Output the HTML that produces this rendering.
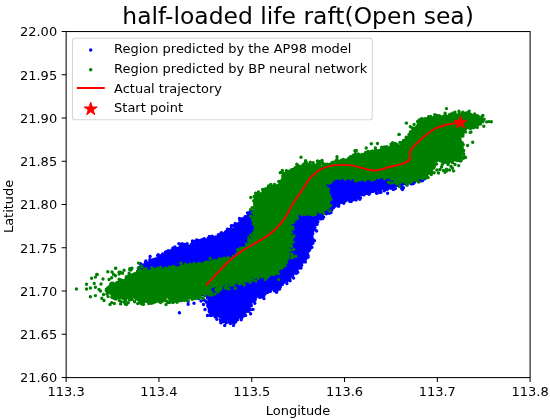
<!DOCTYPE html>
<html><head><meta charset="utf-8"><title>half-loaded life raft(Open sea)</title>
<style>
html,body{margin:0;padding:0;background:#fff;}
body{width:550px;height:420px;overflow:hidden;}
svg{display:block;}
text{font-family:"DejaVu Sans","Liberation Sans",sans-serif;fill:#000;}
</style></head><body>
<svg width="550" height="420" viewBox="0 0 550 420">
<rect width="550" height="420" fill="#fff"/>

<g fill="#0000ff">
<polygon points="141.0,269.0 151.5,282.4 207.3,289.2 207.5,289.2 207.5,289.2 207.7,289.3 207.8,289.3 208.0,289.4 208.0,289.4 208.2,289.5 208.3,289.5 208.5,289.6 208.5,289.6 208.7,289.8 208.7,289.8 208.9,290.0 208.9,290.0 209.1,290.2 209.1,290.2 209.3,290.4 209.3,290.4 209.4,290.6 209.4,290.6 209.6,290.9 209.6,290.9 209.7,291.1 209.7,291.1 209.7,291.4 209.7,291.4 209.8,291.6 209.8,291.7 209.8,291.8 210.3,298.2 211.4,308.5 214.9,313.3 220.8,316.5 220.8,316.5 220.8,316.5 220.8,316.5 225.7,319.2 232.4,319.2 238.6,316.6 243.1,313.3 244.8,306.8 244.8,306.6 244.8,306.6 244.9,306.4 245.0,306.3 245.1,306.1 245.1,306.1 245.2,305.8 245.3,305.8 245.3,305.7 251.3,298.5 251.4,298.4 251.4,298.4 251.6,298.2 251.6,298.2 251.8,298.0 251.9,298.0 252.1,297.9 252.1,297.9 252.2,297.8 262.7,292.3 262.8,292.2 262.9,292.2 263.0,292.2 274.4,288.0 278.4,285.7 286.1,279.3 296.1,269.4 303.4,259.6 308.9,249.0 311.4,239.0 312.2,229.3 312.2,229.2 312.2,229.1 312.3,228.9 312.3,228.9 312.3,228.8 314.3,221.1 314.3,221.0 314.3,221.0 314.4,220.7 314.4,220.7 314.5,220.5 314.6,220.4 314.7,220.2 314.7,220.2 314.9,220.0 314.9,220.0 315.0,219.8 315.1,219.8 315.2,219.7 321.8,213.9 321.9,213.8 321.9,213.8 322.0,213.7 329.4,208.5 329.5,208.5 329.5,208.4 329.6,208.4 339.6,202.4 339.7,202.3 339.7,202.3 339.8,202.3 345.8,199.4 345.9,199.3 345.9,199.3 346.1,199.2 346.1,199.2 346.3,199.2 346.3,199.2 346.5,199.2 358.9,196.7 364.4,192.9 364.5,192.8 364.5,192.8 364.7,192.7 364.7,192.7 364.9,192.6 365.0,192.6 365.2,192.5 365.2,192.5 365.3,192.5 383.3,187.8 383.3,187.8 383.3,187.8 383.4,187.8 398.3,184.3 406.2,181.8 406.2,181.8 406.2,181.8 406.3,181.8 421.3,177.8 421.4,177.8 421.4,177.8 421.5,177.7 421.8,177.7 420.6,170.8 390.1,170.8 345.8,174.7 321.3,187.5 321.2,187.5 321.2,187.5 321.0,187.6 321.0,187.6 320.9,187.7 291.0,197.6 261.2,210.1 249.7,215.6 241.3,221.6 234.3,228.9 234.2,229.0 234.2,229.0 234.0,229.2 234.0,229.2 233.8,229.4 233.8,229.4 233.6,229.5 226.3,233.5 226.2,233.5 226.2,233.5 226.1,233.6 215.1,238.1 215.0,238.1 215.0,238.1 214.9,238.2 199.9,243.2 199.8,243.2 199.7,243.2 199.6,243.2 181.9,247.2 169.2,253.0 154.3,260.0 146.6,264.8 141.0,269.0"/>
</g>
<path d="M419.5 177.3h.01M381.1 169.5h.01M357.6 174.5h.01M180.6 287.6h.01M191.6 287.0h.01M235.2 223.4h.01M275.6 205.0h.01M161.0 255.8h.01M209.8 300.2h.01M263.9 208.5h.01M247.9 304.3h.01M211.3 306.6h.01M277.1 203.7h.01M284.6 199.9h.01M230.3 232.3h.01M287.8 199.3h.01M242.4 220.9h.01M309.4 247.7h.01M344.8 200.8h.01M280.7 200.9h.01M247.5 213.0h.01M343.5 175.8h.01M394.1 171.3h.01M282.5 201.7h.01M259.8 292.7h.01M262.6 210.2h.01M195.1 286.8h.01M331.7 210.0h.01M174.6 250.8h.01M392.3 185.6h.01M255.1 300.0h.01M219.2 237.1h.01M322.3 187.7h.01M146.7 263.4h.01M312.5 231.7h.01M334.6 180.5h.01M157.9 283.2h.01M239.4 225.0h.01M170.8 251.6h.01M421.1 169.6h.01M184.6 244.5h.01M183.9 246.7h.01M211.2 297.2h.01M291.3 274.3h.01M317.5 188.3h.01M391.7 185.4h.01M314.9 227.5h.01M321.3 214.6h.01M368.9 191.7h.01M188.6 287.1h.01M146.3 278.9h.01M222.3 316.5h.01M394.1 171.4h.01M408.1 170.3h.01M268.3 206.7h.01M287.6 276.4h.01M183.0 246.0h.01M259.1 296.5h.01M420.1 179.6h.01M305.6 255.7h.01M148.2 278.1h.01M341.2 201.1h.01M367.0 173.7h.01M172.7 284.4h.01M184.6 246.0h.01M221.4 235.9h.01M222.2 319.0h.01M251.5 300.9h.01M307.8 190.6h.01M209.0 308.6h.01M283.9 199.0h.01M369.1 168.8h.01M185.8 286.8h.01M182.8 247.5h.01M368.6 171.2h.01M321.8 187.8h.01M394.8 187.0h.01M209.2 311.2h.01M224.1 235.0h.01M390.6 171.2h.01M376.2 190.5h.01M266.7 208.5h.01M392.0 170.5h.01M345.8 200.8h.01M420.6 171.3h.01M212.1 238.0h.01M391.4 185.3h.01M319.3 215.1h.01M379.4 188.2h.01M311.5 189.9h.01M261.2 209.3h.01M370.1 173.5h.01M295.0 196.5h.01M312.6 224.3h.01M350.4 197.5h.01M165.0 284.3h.01M274.2 204.2h.01M178.4 248.2h.01M348.7 172.7h.01M236.2 226.1h.01M264.8 292.0h.01M235.3 225.9h.01M371.0 190.7h.01M396.0 167.7h.01M186.5 245.7h.01M404.5 183.5h.01M182.6 285.9h.01M145.4 262.2h.01M149.8 259.8h.01M147.9 283.2h.01M355.4 174.2h.01M203.7 288.9h.01M400.1 186.1h.01M397.3 170.0h.01M419.0 177.5h.01M213.0 310.1h.01M261.6 209.1h.01M212.9 237.3h.01M306.3 252.5h.01M161.1 256.9h.01M155.1 259.9h.01M249.4 306.6h.01M226.2 322.8h.01M213.5 239.6h.01M358.0 172.7h.01M406.3 183.1h.01M362.0 173.2h.01M309.9 190.4h.01M261.9 207.6h.01M377.5 172.1h.01M349.8 200.9h.01M242.3 221.5h.01M319.4 215.3h.01M383.0 187.7h.01M187.8 246.6h.01M146.5 276.6h.01M383.5 165.7h.01M390.6 185.8h.01M348.5 198.7h.01M245.8 306.7h.01M300.3 194.9h.01M182.9 286.4h.01M269.3 202.8h.01M290.1 280.8h.01M268.7 290.7h.01M139.6 267.8h.01M246.6 217.3h.01M327.5 180.9h.01M311.2 238.1h.01M345.1 174.6h.01M198.5 242.5h.01M387.3 189.2h.01M290.3 273.8h.01M366.0 173.3h.01M176.7 285.9h.01M310.7 244.9h.01M146.9 276.1h.01M420.9 177.1h.01M294.5 271.6h.01M230.1 318.3h.01M371.3 190.5h.01M140.6 268.6h.01M198.1 288.2h.01M141.3 270.2h.01M211.6 301.4h.01M306.6 252.7h.01M359.3 197.5h.01M414.7 180.0h.01M313.8 186.3h.01M361.7 194.2h.01M283.5 282.6h.01M379.2 190.6h.01M223.8 317.8h.01M389.4 171.7h.01M287.2 197.2h.01M296.3 195.4h.01M195.4 241.1h.01M268.9 207.0h.01M357.5 172.4h.01M314.1 221.0h.01M281.6 202.4h.01M269.3 204.0h.01M406.9 185.1h.01M322.4 186.8h.01M149.9 261.6h.01M403.5 170.1h.01M308.2 257.1h.01M365.0 192.9h.01M175.1 286.2h.01M141.5 266.3h.01M212.2 236.2h.01M181.8 285.3h.01M141.2 268.1h.01M359.0 196.0h.01M151.4 283.1h.01M355.1 197.8h.01M279.1 285.4h.01M166.8 289.0h.01M254.0 297.2h.01M220.4 315.9h.01M167.9 252.8h.01M326.4 185.6h.01M307.5 192.3h.01M304.4 255.6h.01M146.7 275.1h.01M398.5 167.6h.01M162.4 255.8h.01M311.4 234.2h.01M309.2 248.5h.01M277.2 202.5h.01M413.8 180.5h.01M186.8 288.2h.01M252.1 299.4h.01M356.6 198.1h.01M317.3 189.1h.01M282.8 201.3h.01M305.7 256.1h.01M220.3 319.8h.01M413.3 180.5h.01M328.1 182.5h.01M245.1 218.9h.01M311.9 247.3h.01M210.4 237.5h.01M254.5 300.6h.01M293.1 197.2h.01M176.2 285.6h.01M239.7 223.6h.01M397.1 171.4h.01M289.4 196.9h.01M190.7 287.2h.01M258.6 293.7h.01M326.4 213.8h.01M202.1 242.4h.01M306.5 256.4h.01M187.9 246.0h.01M268.4 290.7h.01M408.7 180.1h.01M224.2 318.9h.01M324.8 211.8h.01M400.9 186.7h.01M141.2 268.2h.01M217.9 236.5h.01M251.6 215.4h.01M376.1 172.3h.01M307.8 249.7h.01M305.9 255.5h.01M304.0 260.7h.01M395.4 188.5h.01M313.3 221.7h.01M293.6 278.1h.01M256.2 213.3h.01M206.3 288.5h.01M365.8 191.9h.01M393.7 184.4h.01M338.6 177.1h.01M236.5 317.3h.01M373.9 172.0h.01M154.9 288.1h.01M144.9 276.0h.01M269.6 205.9h.01M248.8 302.3h.01M275.5 203.5h.01M407.1 170.3h.01M323.6 217.1h.01M300.2 195.1h.01M296.0 272.6h.01M275.5 200.3h.01M231.7 229.9h.01M235.3 317.1h.01M154.0 259.7h.01M207.5 292.1h.01M298.0 193.9h.01M149.2 262.7h.01M161.7 257.6h.01M360.3 170.8h.01M150.8 281.8h.01M355.5 174.5h.01M203.0 289.5h.01M319.8 187.4h.01M159.1 282.9h.01M395.9 170.6h.01M369.4 193.8h.01M314.2 222.9h.01M324.6 184.8h.01M391.0 186.9h.01M420.9 172.4h.01M296.3 196.8h.01M224.2 233.8h.01M352.6 198.0h.01M222.9 234.6h.01M349.9 197.8h.01M419.7 177.6h.01M384.1 189.8h.01M395.4 170.0h.01M263.7 295.9h.01M295.5 268.8h.01M263.1 207.4h.01M209.7 238.3h.01M389.3 185.7h.01M173.4 252.1h.01M259.7 211.7h.01M236.1 226.6h.01M225.5 233.5h.01M272.9 205.4h.01M270.6 290.2h.01M140.7 269.9h.01M314.8 189.2h.01M284.5 200.3h.01M239.8 219.9h.01M214.9 315.7h.01M191.0 287.2h.01M405.0 170.8h.01M209.8 290.1h.01M238.3 316.4h.01M300.6 263.8h.01M174.2 250.4h.01M394.9 171.4h.01M290.0 197.2h.01M184.1 286.2h.01M259.3 211.6h.01M222.8 317.2h.01M254.8 296.3h.01M195.5 244.3h.01M250.6 213.5h.01M378.5 188.7h.01M305.1 193.1h.01M152.4 283.0h.01M309.7 244.5h.01M361.1 194.2h.01M300.0 193.9h.01M210.5 293.7h.01M263.5 210.0h.01M294.7 271.5h.01M265.0 294.1h.01M336.7 204.1h.01M214.7 238.2h.01M278.5 284.5h.01M254.0 296.7h.01M367.3 192.2h.01M416.4 167.8h.01M142.0 279.0h.01M243.9 310.5h.01M413.6 178.8h.01M294.6 196.4h.01M161.5 257.3h.01M287.2 280.6h.01M274.6 205.5h.01M414.7 179.0h.01M255.6 210.4h.01M401.7 188.5h.01M187.1 243.6h.01M161.4 255.9h.01M183.7 286.9h.01M304.9 255.6h.01M192.5 245.3h.01M211.2 302.2h.01M415.6 179.6h.01M224.5 233.3h.01M278.4 201.5h.01M206.5 288.1h.01M277.0 288.0h.01M167.4 251.2h.01M247.8 217.4h.01M386.5 171.0h.01M269.8 204.7h.01M319.1 218.0h.01M284.3 281.3h.01M238.0 316.0h.01M412.3 183.6h.01M242.8 311.0h.01M406.1 181.8h.01M259.3 293.0h.01M242.8 314.6h.01M328.1 209.9h.01M338.2 203.2h.01M284.4 201.4h.01M411.7 180.2h.01M160.1 283.8h.01M258.1 210.5h.01M292.3 274.3h.01M286.8 278.0h.01M339.4 177.9h.01M312.0 236.1h.01M230.7 319.1h.01M163.9 254.7h.01M312.1 231.4h.01M275.4 287.4h.01M299.9 193.8h.01M403.4 187.7h.01M318.9 216.2h.01M421.2 171.7h.01M298.1 265.1h.01M366.3 192.3h.01M279.2 283.9h.01M309.6 244.8h.01M421.6 178.0h.01M389.7 169.6h.01M321.8 212.9h.01M146.1 274.4h.01M343.4 199.5h.01M314.3 224.3h.01M226.2 233.7h.01M318.2 218.3h.01M295.8 269.0h.01M316.4 217.9h.01M168.7 252.6h.01M400.3 185.3h.01M308.8 250.9h.01M187.6 291.0h.01M295.5 196.4h.01M211.9 310.4h.01M277.7 202.9h.01M323.3 187.0h.01M323.9 186.5h.01M163.9 283.3h.01M420.1 172.0h.01M197.4 288.8h.01M393.3 189.5h.01M212.3 308.3h.01M138.4 270.2h.01M311.4 247.6h.01M170.4 283.8h.01M152.7 284.5h.01M151.4 280.7h.01M409.8 180.6h.01M295.2 195.9h.01M354.7 173.0h.01M418.8 179.8h.01M256.9 295.7h.01M329.9 209.2h.01M345.2 175.5h.01M210.4 297.6h.01M332.7 206.6h.01M242.3 317.1h.01M354.8 197.5h.01M189.9 287.3h.01M319.5 188.8h.01M248.8 301.1h.01M164.7 284.1h.01M409.5 179.9h.01M251.4 211.0h.01M324.7 185.3h.01M353.6 198.2h.01M182.1 247.0h.01M166.6 285.9h.01M349.3 198.4h.01M211.6 237.7h.01M255.2 298.1h.01M272.9 205.5h.01M341.3 201.0h.01M310.5 245.4h.01M418.7 169.3h.01M275.4 204.8h.01M192.0 288.0h.01M147.8 276.3h.01M251.4 301.5h.01M272.0 205.6h.01M396.2 171.7h.01M157.3 283.6h.01M361.5 194.3h.01M179.7 284.9h.01M355.6 197.9h.01M172.7 251.8h.01M276.8 285.9h.01M366.3 193.0h.01M286.4 199.5h.01M306.5 252.7h.01M272.8 288.7h.01M312.5 228.3h.01M387.6 186.8h.01M229.3 229.4h.01M412.2 179.8h.01M307.9 192.2h.01M333.0 181.7h.01M209.8 291.7h.01M288.7 278.2h.01M212.3 313.2h.01M254.5 213.6h.01M329.8 207.1h.01M251.2 301.1h.01M366.6 193.4h.01M422.5 178.2h.01M246.2 217.4h.01M408.0 180.6h.01M236.9 318.2h.01M353.8 173.3h.01M363.9 194.3h.01M264.5 291.1h.01M324.6 186.5h.01M413.2 169.1h.01M210.7 302.9h.01M270.9 204.7h.01M314.5 240.8h.01M273.6 205.4h.01M201.3 242.3h.01M320.3 187.5h.01M289.8 195.6h.01M322.6 186.2h.01M241.5 316.6h.01M276.2 286.7h.01M253.5 214.0h.01M351.3 172.9h.01M330.4 182.9h.01M182.2 290.3h.01M153.0 282.3h.01M272.7 205.9h.01M269.2 205.9h.01M255.5 298.6h.01M294.6 196.8h.01M159.5 257.8h.01M200.7 291.7h.01M211.0 301.5h.01M358.2 196.6h.01M246.1 307.1h.01M146.7 265.3h.01M242.0 221.0h.01M391.6 171.1h.01M345.8 199.6h.01M273.9 287.6h.01M292.7 275.5h.01M147.1 265.6h.01M295.1 195.3h.01M138.5 267.9h.01M336.9 178.3h.01M244.2 220.0h.01M331.0 212.6h.01M162.3 288.1h.01M305.6 255.7h.01M269.5 206.0h.01M297.6 193.9h.01M413.0 170.8h.01M199.9 290.6h.01M365.6 172.9h.01M254.3 296.5h.01M177.3 284.8h.01M160.2 282.9h.01M417.2 171.1h.01M242.3 312.4h.01M356.3 169.8h.01M364.8 193.2h.01M280.1 285.2h.01M159.0 284.5h.01M322.4 186.8h.01M281.7 200.6h.01M147.8 279.0h.01M399.0 171.6h.01M236.4 225.5h.01M331.6 181.7h.01M163.3 254.9h.01M207.4 297.7h.01M393.8 184.8h.01M322.6 213.0h.01M273.3 288.8h.01M321.9 214.8h.01M353.5 174.4h.01M411.2 183.9h.01M245.6 305.0h.01M411.3 170.7h.01M253.0 296.7h.01M189.3 289.8h.01M208.7 302.7h.01M227.4 232.3h.01M183.4 247.2h.01M336.9 179.4h.01M145.7 266.4h.01M360.5 197.9h.01M210.8 294.1h.01M356.1 200.0h.01M231.9 230.6h.01M390.6 171.0h.01M177.0 250.0h.01M396.7 171.1h.01M329.2 213.2h.01M227.5 319.0h.01M190.0 287.0h.01M322.7 186.2h.01M192.6 243.8h.01M213.1 239.1h.01M195.9 244.8h.01M318.8 188.9h.01M250.6 313.7h.01M328.4 209.4h.01M290.0 276.8h.01M411.8 170.0h.01M249.8 216.6h.01M229.9 230.7h.01M252.3 298.6h.01M302.0 261.7h.01M215.2 316.9h.01M348.0 174.4h.01M224.9 317.8h.01M261.3 296.9h.01M384.3 170.1h.01M257.5 212.4h.01M310.7 247.2h.01M318.6 217.7h.01M366.0 170.1h.01M344.9 176.0h.01M250.5 298.5h.01M259.0 294.5h.01M310.2 191.3h.01M144.8 266.2h.01M209.8 299.0h.01M267.5 292.4h.01M397.3 184.5h.01M156.3 283.2h.01M160.2 283.0h.01M220.4 236.0h.01M396.4 183.9h.01M210.8 309.1h.01M141.6 264.6h.01M312.2 227.4h.01M237.6 224.3h.01M341.9 172.8h.01M412.9 180.6h.01M223.0 319.7h.01M349.9 199.4h.01M277.0 290.8h.01M255.6 213.0h.01M322.6 187.9h.01M389.7 186.1h.01M292.5 273.1h.01M306.6 255.4h.01M155.1 260.7h.01M236.8 226.1h.01M183.4 246.5h.01M289.9 279.0h.01M183.9 285.9h.01M365.7 192.7h.01M304.1 193.9h.01M353.2 199.7h.01M271.4 205.7h.01M359.0 174.4h.01M213.9 237.8h.01M386.5 168.5h.01M303.0 193.9h.01M380.6 172.5h.01M351.1 201.6h.01M285.8 198.8h.01M287.5 276.8h.01M313.0 228.6h.01M310.5 242.2h.01M214.4 238.9h.01M292.3 193.8h.01M311.2 191.9h.01M339.6 178.6h.01M363.9 194.9h.01M247.1 302.9h.01M394.0 184.6h.01M161.4 285.9h.01M363.7 169.1h.01M235.0 229.3h.01M145.9 260.9h.01M208.2 239.7h.01M375.5 189.4h.01M343.2 200.3h.01M392.3 187.5h.01M374.3 190.3h.01M318.8 216.1h.01M149.3 280.2h.01M244.7 305.8h.01M361.8 172.5h.01M319.7 216.2h.01M231.0 319.9h.01M285.1 200.7h.01M171.0 284.1h.01M214.6 313.0h.01M176.6 286.1h.01M209.9 294.7h.01M359.4 169.1h.01M261.5 205.3h.01M274.2 288.0h.01M249.2 215.8h.01M192.1 287.4h.01M327.7 184.5h.01M293.5 195.6h.01M293.5 197.2h.01M389.7 170.6h.01M150.1 256.5h.01M212.5 309.3h.01M203.6 242.0h.01M176.6 249.2h.01M322.6 216.3h.01M404.6 170.7h.01M413.4 183.5h.01M392.9 170.7h.01M162.1 257.3h.01M316.0 224.2h.01M394.1 167.8h.01M326.2 211.0h.01M244.8 307.4h.01M201.4 289.0h.01M167.1 251.8h.01M215.6 236.9h.01M397.4 171.0h.01M148.7 279.9h.01M389.4 185.4h.01M387.2 186.2h.01M355.8 198.3h.01M334.3 180.4h.01M217.0 238.0h.01M376.9 171.6h.01M141.9 271.4h.01M290.6 276.6h.01M369.0 191.9h.01M313.9 225.1h.01M377.0 172.1h.01M414.0 179.6h.01M422.6 180.4h.01M175.4 284.6h.01M195.2 287.2h.01M256.2 294.9h.01M224.6 318.4h.01M300.5 262.2h.01M208.0 290.4h.01M278.2 284.8h.01M337.8 178.3h.01M357.5 197.7h.01M209.2 305.1h.01M213.1 239.5h.01M173.6 285.9h.01M296.3 273.4h.01M317.0 189.6h.01M414.4 171.0h.01M286.3 279.6h.01M274.4 290.7h.01M162.7 253.9h.01M321.4 215.8h.01M419.2 168.8h.01M151.4 282.5h.01M351.8 197.4h.01M291.4 275.2h.01M419.3 178.8h.01M211.8 308.8h.01M309.0 244.8h.01M194.4 288.1h.01M268.0 207.8h.01M231.3 228.3h.01M309.0 245.3h.01M259.9 297.4h.01M362.1 172.4h.01M269.3 206.6h.01M160.2 283.7h.01M405.9 171.3h.01M380.1 192.5h.01M346.7 169.8h.01M226.3 234.4h.01M218.1 236.3h.01M317.3 217.0h.01M219.3 316.0h.01M307.0 252.6h.01M244.2 311.7h.01M182.4 286.6h.01M392.9 185.4h.01M168.3 285.3h.01M386.7 186.6h.01M240.7 223.7h.01M324.7 185.3h.01M245.0 305.9h.01M305.4 261.9h.01M407.7 181.7h.01M197.1 244.3h.01M301.9 191.6h.01M368.9 194.3h.01M380.4 190.9h.01M314.2 224.5h.01M209.3 236.4h.01M215.9 315.7h.01M203.6 242.8h.01M392.6 170.1h.01M211.4 308.2h.01M177.6 285.9h.01M176.2 249.2h.01M378.3 171.9h.01M392.1 186.4h.01M304.7 261.5h.01M407.0 180.7h.01M254.7 212.8h.01M144.5 272.3h.01M187.6 246.6h.01M307.6 252.3h.01M207.2 290.0h.01M354.8 171.1h.01M387.6 193.3h.01M202.3 242.5h.01M233.1 319.2h.01M184.6 245.4h.01M286.4 199.6h.01M385.1 170.7h.01M402.7 182.8h.01M226.8 319.1h.01M324.5 212.8h.01M306.5 192.9h.01M268.0 206.7h.01M399.4 183.7h.01M325.4 212.9h.01M218.3 315.9h.01M220.8 322.7h.01M299.5 264.4h.01M400.9 183.2h.01M311.8 228.5h.01M399.3 170.8h.01M143.2 268.1h.01M234.8 226.6h.01M240.0 314.5h.01M364.1 193.8h.01M151.6 282.6h.01M291.6 195.8h.01M199.3 242.3h.01M339.0 177.3h.01M265.4 207.7h.01M146.9 277.1h.01M283.2 200.4h.01M225.4 319.6h.01M364.3 192.8h.01M254.0 212.0h.01M254.8 213.4h.01M271.1 205.3h.01M385.2 188.5h.01M336.5 203.4h.01M158.4 284.6h.01M381.2 187.7h.01M308.7 192.1h.01M404.8 170.0h.01M294.4 271.9h.01M354.1 198.9h.01M368.8 193.7h.01M307.3 255.4h.01M215.0 313.7h.01M312.0 190.2h.01M289.9 276.4h.01M213.8 312.3h.01M175.8 249.6h.01M318.7 188.9h.01M416.7 178.6h.01M279.9 200.6h.01M413.8 170.0h.01M410.3 180.3h.01M351.5 199.6h.01M395.9 171.7h.01M234.7 319.6h.01M206.0 289.8h.01M419.1 177.5h.01M235.5 317.5h.01M153.0 260.0h.01M381.0 192.2h.01M265.5 206.9h.01M249.3 304.1h.01M338.0 204.1h.01M401.0 170.1h.01M335.2 205.4h.01M174.3 249.7h.01M253.8 212.2h.01M291.4 273.7h.01M275.5 288.3h.01M165.2 255.8h.01M352.8 197.8h.01M236.2 317.5h.01M247.2 217.9h.01M336.1 204.7h.01M408.2 168.0h.01M263.5 209.0h.01M312.1 234.8h.01M290.5 276.8h.01M312.8 233.4h.01M264.3 291.1h.01M143.7 271.3h.01M156.6 259.1h.01M312.0 230.4h.01M265.1 209.0h.01M145.1 274.7h.01M197.0 287.8h.01M398.2 170.2h.01M203.7 288.9h.01M311.6 240.8h.01M396.4 170.6h.01M398.8 169.2h.01M235.1 320.0h.01M414.1 180.5h.01M387.2 187.0h.01M218.6 235.8h.01M306.3 253.4h.01M314.2 227.6h.01M240.2 315.3h.01M250.2 214.3h.01M326.8 185.4h.01M245.0 306.5h.01M143.3 272.1h.01M196.3 290.1h.01M376.5 171.9h.01M357.7 197.1h.01M143.8 272.7h.01M346.9 175.3h.01M163.9 283.7h.01M236.0 320.1h.01M211.3 239.8h.01M293.2 271.4h.01M318.6 216.0h.01M211.1 303.4h.01M323.1 184.7h.01M325.3 183.1h.01M387.6 188.2h.01M249.3 216.8h.01M349.7 174.1h.01M365.0 193.6h.01M143.9 273.3h.01M301.7 265.2h.01M187.0 246.5h.01M338.0 177.0h.01M394.3 188.0h.01M421.8 176.8h.01M141.0 265.9h.01M390.8 169.4h.01M326.8 184.7h.01M226.6 319.6h.01M323.3 213.8h.01M176.8 249.9h.01M346.8 174.7h.01M245.7 217.5h.01M306.8 257.7h.01M342.4 201.1h.01M421.1 172.0h.01M201.6 240.0h.01M275.7 286.4h.01M397.5 170.7h.01M197.4 288.2h.01M312.7 241.7h.01M167.8 253.0h.01M393.1 185.1h.01M224.0 319.2h.01M214.2 312.9h.01M399.2 170.7h.01M189.1 286.8h.01M312.0 243.3h.01M209.6 298.2h.01M156.2 258.6h.01M191.3 244.5h.01M210.6 239.9h.01M403.2 170.2h.01M194.0 244.8h.01M371.7 171.6h.01M154.6 283.2h.01M282.3 284.5h.01M304.1 261.8h.01M190.2 246.2h.01M143.6 266.2h.01M394.5 169.1h.01M180.6 285.0h.01M184.1 246.1h.01M381.7 167.4h.01M140.3 268.5h.01M211.3 308.9h.01M346.0 200.5h.01M385.2 187.4h.01M229.5 230.5h.01M289.0 277.2h.01M300.7 263.9h.01M367.1 173.4h.01M144.4 275.4h.01M356.1 196.9h.01M324.1 183.3h.01M279.6 284.6h.01M225.2 318.2h.01M382.2 172.1h.01M179.4 249.3h.01M148.5 277.3h.01M196.6 240.0h.01M292.1 192.3h.01M204.3 238.8h.01M256.1 295.4h.01M173.8 285.2h.01M373.6 171.6h.01M147.7 263.5h.01M395.7 184.6h.01M150.0 259.5h.01M189.5 287.5h.01M297.5 195.3h.01M332.8 181.6h.01M311.6 191.4h.01M351.3 174.3h.01M179.2 248.5h.01M420.1 172.2h.01M346.5 199.5h.01M149.0 279.5h.01M287.5 276.7h.01M166.3 253.1h.01M317.8 188.9h.01M150.6 282.6h.01M310.4 241.2h.01M257.7 295.1h.01M355.8 171.8h.01M274.5 205.0h.01M400.3 171.0h.01M157.7 285.5h.01M325.1 211.7h.01M245.2 307.8h.01M173.5 248.1h.01M363.1 174.1h.01M322.6 212.2h.01M319.2 218.7h.01M412.0 167.4h.01M243.1 311.4h.01M153.5 260.0h.01M306.7 191.2h.01M162.9 284.6h.01M363.3 173.4h.01M373.4 173.0h.01M315.3 189.6h.01M198.7 240.5h.01M311.4 234.4h.01M153.6 259.4h.01M317.3 222.3h.01M142.7 271.7h.01M319.2 215.0h.01M390.4 185.6h.01M302.3 261.3h.01M343.7 200.7h.01M227.0 318.8h.01M260.0 296.4h.01M146.7 263.7h.01M195.8 288.5h.01M279.5 202.2h.01M274.1 204.9h.01M387.9 170.7h.01M139.5 267.5h.01M287.3 277.5h.01M200.7 287.6h.01M217.4 314.7h.01M221.4 232.8h.01M211.4 300.9h.01M393.8 171.0h.01M412.1 180.2h.01M150.7 262.5h.01M248.9 300.6h.01M177.3 285.9h.01M138.9 267.6h.01M146.8 280.3h.01M314.3 190.7h.01M300.8 193.5h.01M418.3 177.7h.01M196.7 287.6h.01M305.7 253.7h.01M299.1 193.1h.01M277.7 201.9h.01M345.7 198.4h.01M311.8 191.5h.01M199.1 243.3h.01M391.3 187.8h.01M280.0 285.3h.01M202.4 289.5h.01M156.2 259.6h.01M165.4 252.2h.01M406.0 182.0h.01M159.1 255.7h.01M344.4 200.3h.01M349.2 199.2h.01M206.0 241.4h.01M185.1 245.6h.01M366.9 191.2h.01M202.1 288.4h.01M282.2 282.4h.01M272.8 288.6h.01M292.0 198.1h.01M401.4 171.5h.01M207.8 306.2h.01M280.3 286.9h.01M239.3 315.6h.01M140.9 269.1h.01M372.9 172.0h.01M148.7 281.7h.01M262.3 207.6h.01M243.9 310.4h.01M329.9 208.4h.01M338.4 202.6h.01M419.1 171.7h.01M331.7 207.5h.01M310.2 242.5h.01M420.1 170.8h.01M347.0 173.6h.01M375.4 171.4h.01M228.3 231.6h.01M337.0 203.4h.01M369.3 173.2h.01M243.2 311.2h.01M415.7 170.5h.01M198.1 288.6h.01M234.1 318.8h.01M259.4 294.7h.01M407.6 170.8h.01M210.4 298.7h.01M317.6 186.6h.01M347.3 175.1h.01M334.4 181.5h.01M297.1 268.8h.01M321.8 187.3h.01M192.9 244.1h.01M373.4 190.2h.01M322.0 187.2h.01M289.8 277.3h.01M288.8 196.8h.01M346.1 174.8h.01M142.0 272.5h.01M182.4 244.8h.01M298.1 194.9h.01M227.5 229.3h.01M231.3 319.1h.01M205.9 288.2h.01M146.6 265.3h.01M143.1 270.4h.01M209.1 307.8h.01M423.9 174.4h.01M296.8 267.4h.01M353.6 198.2h.01M232.4 229.1h.01M207.9 239.7h.01M255.7 211.7h.01M243.5 220.4h.01M385.3 167.7h.01M319.5 187.4h.01M284.0 200.5h.01M419.0 171.8h.01M140.4 263.6h.01M302.9 193.0h.01M198.1 242.7h.01M262.4 209.9h.01M182.8 288.2h.01M278.2 285.1h.01M297.1 192.3h.01M307.0 193.3h.01M228.5 318.6h.01M258.0 208.4h.01M153.7 281.8h.01M190.9 288.7h.01M251.7 299.5h.01M175.0 250.0h.01M146.2 276.7h.01M249.1 215.5h.01M227.4 229.1h.01M242.6 315.4h.01M399.1 185.6h.01M138.4 269.1h.01M181.6 285.7h.01M350.1 198.0h.01M243.1 221.2h.01M314.4 188.6h.01M175.0 250.8h.01M254.5 298.7h.01M243.4 316.0h.01M326.1 185.5h.01M301.7 194.8h.01M249.4 300.9h.01M315.9 187.1h.01M165.7 252.0h.01M298.6 266.8h.01M210.5 307.3h.01M218.4 235.7h.01M172.7 284.8h.01M267.1 291.1h.01M180.2 246.9h.01M356.9 174.5h.01M278.4 199.2h.01M249.2 305.8h.01M397.0 167.6h.01M259.6 293.2h.01M307.6 252.1h.01M173.3 285.8h.01M295.7 196.8h.01M210.4 304.5h.01M312.3 230.1h.01M395.9 184.7h.01M231.2 319.7h.01M205.2 290.8h.01M310.5 241.3h.01M353.9 174.3h.01M302.7 194.3h.01M331.5 182.9h.01M274.1 205.6h.01M308.8 191.4h.01M148.8 262.8h.01M412.2 181.1h.01M239.5 218.4h.01M250.1 299.0h.01M219.6 235.3h.01M236.9 316.8h.01M283.3 282.3h.01M304.2 258.8h.01M235.7 317.3h.01M327.8 183.3h.01M153.5 283.3h.01M250.9 299.8h.01M320.7 188.5h.01M168.7 250.8h.01M167.9 254.5h.01M193.4 245.4h.01M350.3 197.9h.01M325.4 212.0h.01M160.6 285.2h.01M273.1 203.2h.01M379.9 171.3h.01M402.4 184.2h.01M163.3 285.6h.01M185.3 247.4h.01M286.4 197.4h.01M151.7 281.1h.01M263.7 293.7h.01M160.5 257.2h.01M345.9 198.8h.01M387.8 187.7h.01M151.0 282.7h.01M302.9 192.8h.01M381.7 169.1h.01M251.9 299.0h.01M316.1 189.6h.01M223.6 235.4h.01M170.3 252.9h.01M393.9 170.3h.01M368.4 173.1h.01M208.1 288.7h.01M149.8 280.5h.01M163.3 256.4h.01M377.6 171.2h.01M302.7 194.7h.01M326.2 211.6h.01M346.8 199.8h.01M336.7 203.4h.01M299.1 264.1h.01M230.4 323.5h.01M322.2 187.0h.01M183.1 246.2h.01M364.4 193.7h.01M173.3 250.1h.01M198.4 242.7h.01M281.7 282.1h.01M222.8 234.2h.01M230.2 319.9h.01M420.2 178.4h.01M342.7 176.6h.01M320.5 214.3h.01M186.2 245.8h.01M207.7 288.4h.01M184.9 246.2h.01M414.5 169.9h.01M289.3 199.2h.01M180.3 286.5h.01M251.2 301.3h.01M328.1 209.5h.01M221.4 315.7h.01M347.4 175.2h.01M236.4 226.7h.01M307.7 192.4h.01M173.7 251.4h.01M232.8 229.7h.01M311.8 228.3h.01M421.8 172.5h.01M213.4 314.2h.01M322.8 186.3h.01M377.4 189.0h.01M175.1 287.2h.01M257.4 212.3h.01M294.8 195.6h.01M414.4 182.3h.01M143.8 273.1h.01M313.9 223.5h.01M256.3 208.1h.01M275.7 288.1h.01M183.6 246.1h.01M387.2 171.7h.01M237.9 224.5h.01M328.4 184.1h.01M314.7 229.4h.01M191.4 245.0h.01M391.8 170.5h.01M255.9 210.9h.01M218.8 235.7h.01M200.3 243.1h.01M157.4 283.3h.01M294.8 269.8h.01M273.4 288.0h.01M213.6 311.1h.01M153.3 282.8h.01M421.7 172.9h.01M225.5 321.0h.01M384.9 186.9h.01M401.3 168.3h.01M210.5 299.7h.01M272.0 202.8h.01M350.5 174.9h.01M202.9 288.7h.01M422.2 176.9h.01M380.6 172.0h.01M166.5 283.8h.01M329.0 183.4h.01M389.5 186.2h.01M233.0 318.0h.01M231.9 319.4h.01M371.8 191.2h.01M372.6 172.1h.01M256.9 295.9h.01M192.4 288.3h.01M308.7 190.1h.01M192.4 287.4h.01M229.0 321.9h.01M247.1 302.9h.01M243.2 309.9h.01M418.6 170.0h.01M363.2 172.6h.01M378.0 188.8h.01M304.5 192.9h.01M210.7 295.7h.01M375.5 171.4h.01M208.2 238.1h.01M208.8 298.7h.01M203.0 242.9h.01M151.0 281.3h.01M168.5 252.8h.01M280.3 284.3h.01M343.2 174.7h.01M183.9 286.7h.01M278.5 201.7h.01M284.7 201.3h.01M199.9 244.0h.01M301.3 194.5h.01M312.0 230.0h.01M322.7 218.6h.01M167.5 252.9h.01M172.1 284.0h.01M266.4 291.3h.01M388.7 170.7h.01M324.0 212.4h.01M336.1 179.3h.01M246.8 305.5h.01M297.1 269.5h.01M344.5 200.1h.01M166.6 252.3h.01M306.9 250.9h.01M168.0 251.9h.01M271.6 204.8h.01M278.3 203.4h.01M305.9 254.5h.01M380.7 189.1h.01M420.8 172.3h.01M420.3 180.9h.01M380.3 188.5h.01M209.6 296.3h.01M195.2 287.8h.01M261.7 209.5h.01M175.0 246.9h.01M336.2 178.7h.01M375.2 190.5h.01M176.2 284.7h.01M286.5 199.8h.01M248.3 217.6h.01M289.9 276.4h.01M341.1 201.1h.01M148.0 278.1h.01M338.8 204.5h.01M270.0 207.3h.01M308.6 247.1h.01M212.3 238.9h.01M160.7 256.5h.01M411.5 170.6h.01M250.2 299.7h.01M331.7 208.0h.01M229.4 318.7h.01M278.7 202.7h.01M199.0 289.0h.01M143.2 271.0h.01M402.2 171.0h.01M384.1 188.2h.01M141.3 272.7h.01M298.0 194.7h.01M358.8 173.7h.01M242.7 314.1h.01M173.0 248.0h.01M329.2 208.7h.01M282.9 199.8h.01M248.3 301.8h.01M391.8 171.0h.01M376.6 193.2h.01M163.8 284.1h.01M420.6 174.4h.01M181.5 245.5h.01M394.5 170.8h.01M167.4 253.4h.01M239.2 316.5h.01M209.0 290.9h.01M309.6 247.8h.01M179.2 285.8h.01M150.8 282.5h.01M410.0 180.8h.01M163.9 284.8h.01M186.6 287.8h.01M394.2 171.5h.01M357.1 174.6h.01M203.6 290.1h.01M246.4 218.9h.01M372.4 190.7h.01M292.3 272.3h.01M331.1 182.5h.01M418.6 178.3h.01M279.0 283.9h.01M311.2 230.2h.01M210.8 237.9h.01M410.5 170.9h.01M209.5 291.7h.01M293.5 194.0h.01M140.2 268.4h.01M239.2 223.0h.01M372.4 191.0h.01M322.0 187.0h.01M311.3 230.4h.01M400.2 182.9h.01M286.9 283.6h.01M403.2 170.6h.01M168.4 283.6h.01M281.2 284.9h.01M164.3 287.2h.01M327.8 211.4h.01M310.2 188.6h.01M255.3 297.2h.01M319.2 215.7h.01M299.1 194.2h.01M346.8 174.1h.01M210.1 297.8h.01M288.2 276.0h.01M386.7 189.4h.01M211.6 302.6h.01M221.5 315.8h.01M158.1 258.4h.01M152.0 284.8h.01M244.3 311.5h.01M252.0 214.9h.01M372.1 170.7h.01M365.3 172.7h.01M268.7 206.8h.01M330.0 207.2h.01M279.3 285.6h.01M234.2 323.0h.01M258.8 210.5h.01M147.7 276.6h.01M218.4 234.6h.01M245.9 311.8h.01M221.0 233.1h.01M148.1 264.1h.01M218.2 315.2h.01M288.6 197.7h.01M399.5 170.2h.01M250.8 214.5h.01M271.3 204.1h.01M391.7 186.2h.01M293.5 272.3h.01M247.6 304.0h.01M263.5 295.3h.01M251.8 301.7h.01M250.1 211.8h.01M151.9 281.7h.01M371.7 189.9h.01M148.3 263.1h.01M209.6 293.2h.01M302.5 259.4h.01M202.8 288.7h.01M289.9 278.4h.01M190.1 246.3h.01M323.0 186.0h.01M292.7 191.7h.01M182.4 247.0h.01M211.0 304.0h.01M233.7 225.5h.01M203.1 242.6h.01M359.8 199.3h.01M270.1 291.6h.01M155.1 260.7h.01M207.1 241.6h.01M185.6 286.5h.01M252.7 213.1h.01M252.3 297.9h.01M368.3 173.6h.01M240.3 223.2h.01M147.4 263.8h.01M372.9 191.2h.01M200.1 241.5h.01M152.1 260.7h.01M242.8 314.1h.01M220.1 235.9h.01M387.7 185.9h.01M322.1 187.3h.01M339.9 176.2h.01M316.6 231.0h.01M328.3 183.4h.01M165.1 283.7h.01M171.6 285.6h.01M226.5 232.4h.01M196.4 241.4h.01M381.5 171.8h.01M341.6 175.9h.01M338.1 204.7h.01M259.1 293.9h.01M406.4 182.5h.01M304.6 257.6h.01M400.6 183.0h.01M325.5 185.4h.01M348.5 198.9h.01M142.6 267.1h.01M322.1 214.1h.01M182.1 243.7h.01M169.3 253.8h.01M318.7 185.8h.01M364.6 192.4h.01M369.0 171.9h.01M382.2 172.5h.01M192.6 244.3h.01M143.4 272.4h.01M231.1 322.1h.01M247.1 217.5h.01M317.8 222.0h.01M349.8 201.4h.01M397.2 184.7h.01M364.5 193.8h.01M155.0 282.7h.01M240.1 315.4h.01M208.9 298.7h.01M381.1 171.4h.01M394.8 170.5h.01M349.4 172.6h.01M245.0 216.7h.01M386.5 171.8h.01M166.3 284.8h.01M326.7 185.6h.01M273.7 288.3h.01M287.7 280.0h.01M312.9 230.8h.01M396.7 170.6h.01M362.1 172.6h.01M245.1 307.9h.01M201.5 288.0h.01M148.1 278.5h.01M168.9 287.2h.01M140.3 268.8h.01M211.5 236.9h.01M301.9 262.7h.01M342.0 202.2h.01M356.0 174.5h.01M388.9 171.3h.01M309.9 247.9h.01M319.9 188.9h.01M413.4 171.4h.01M248.2 303.4h.01M398.1 184.9h.01M279.5 203.0h.01M394.3 184.4h.01M333.4 206.9h.01M311.5 229.1h.01M250.3 213.9h.01M175.6 248.1h.01M311.3 236.7h.01M203.4 239.1h.01M153.4 261.3h.01M288.1 199.6h.01M257.0 208.6h.01M219.8 316.5h.01M355.2 171.6h.01M295.7 268.8h.01M347.5 198.6h.01M284.3 281.3h.01M282.6 282.1h.01M370.1 168.2h.01M270.4 291.2h.01M395.2 166.1h.01M158.9 257.2h.01M209.9 309.5h.01M180.4 285.8h.01M337.8 175.6h.01M425.1 176.6h.01M350.8 174.1h.01M376.0 171.4h.01M214.2 314.6h.01M308.2 192.3h.01M167.2 253.8h.01M339.3 175.2h.01M362.0 173.4h.01M193.5 287.9h.01M196.0 287.8h.01M252.7 215.1h.01M192.5 240.9h.01M204.0 288.7h.01M210.6 298.5h.01M171.9 251.2h.01M273.0 204.8h.01M410.2 180.0h.01M177.1 288.5h.01M298.7 195.8h.01M287.3 199.7h.01M211.1 302.3h.01M390.2 185.6h.01M225.3 232.1h.01M313.3 239.8h.01M248.2 301.4h.01M291.1 192.8h.01M197.6 289.1h.01M305.3 190.7h.01M248.7 214.9h.01M247.0 304.1h.01M322.7 213.3h.01M370.3 191.7h.01M156.5 283.8h.01M285.7 198.9h.01M260.5 209.0h.01M215.2 238.0h.01M174.5 284.5h.01M291.2 197.2h.01M336.0 179.4h.01M330.7 182.4h.01M375.0 190.7h.01M306.1 191.9h.01M398.0 171.3h.01M210.1 298.1h.01M305.5 193.5h.01M311.4 233.3h.01M325.3 211.4h.01M293.7 196.6h.01M311.4 232.3h.01M249.5 300.7h.01M293.5 273.2h.01M266.7 291.6h.01M261.7 293.2h.01M424.0 173.8h.01M289.8 275.7h.01M397.1 171.3h.01M309.7 249.8h.01M299.7 268.1h.01M416.1 179.1h.01M281.9 201.7h.01M234.2 318.3h.01M162.3 256.0h.01M174.8 286.3h.01M396.9 168.3h.01M299.6 194.5h.01M316.8 188.6h.01M152.1 260.5h.01M142.1 271.1h.01M372.2 189.8h.01M190.7 245.8h.01M213.5 311.3h.01M312.1 238.9h.01M296.6 270.2h.01M228.5 231.3h.01M262.0 293.2h.01M220.0 315.1h.01M181.6 286.2h.01M214.2 310.7h.01M270.9 289.7h.01M209.0 239.3h.01M226.1 231.5h.01M242.4 218.7h.01M211.1 296.6h.01M387.0 172.0h.01M223.9 234.3h.01M278.1 287.4h.01M312.5 233.8h.01M324.0 183.4h.01M217.1 237.7h.01M273.8 205.3h.01M330.5 182.5h.01M200.8 243.0h.01M272.0 203.9h.01M335.4 206.0h.01M311.6 190.6h.01M302.4 261.7h.01M182.3 286.2h.01M346.5 171.7h.01M276.3 204.0h.01M244.1 313.0h.01M269.0 207.8h.01M210.2 315.4h.01M390.4 188.2h.01M259.3 210.4h.01M311.2 243.2h.01M142.3 269.8h.01M211.0 295.7h.01M144.3 265.3h.01M336.5 174.4h.01M332.3 207.4h.01M399.2 183.2h.01M337.7 203.3h.01M161.6 283.8h.01M327.2 210.2h.01M228.7 233.0h.01M244.8 306.2h.01M385.1 187.8h.01M207.7 306.0h.01M282.8 282.0h.01M288.5 276.1h.01M276.4 287.2h.01M309.8 244.9h.01M403.7 169.6h.01M232.9 229.6h.01M256.1 296.8h.01M170.3 285.2h.01M396.2 171.3h.01M337.5 203.2h.01M153.1 260.4h.01M241.9 220.6h.01M336.3 176.8h.01M261.4 210.9h.01M305.7 192.8h.01M149.6 263.5h.01M233.5 318.0h.01M413.3 181.0h.01M320.4 214.7h.01M371.8 190.6h.01M314.9 220.7h.01M328.3 208.9h.01M152.0 261.5h.01M171.1 284.1h.01M240.1 223.0h.01M312.8 243.2h.01M239.0 224.7h.01M255.6 213.0h.01M193.2 243.8h.01M297.8 272.2h.01M272.9 203.7h.01M244.0 309.3h.01M163.7 283.3h.01M214.7 313.7h.01M280.3 201.7h.01M155.7 260.2h.01M321.1 187.8h.01M273.3 288.0h.01M157.8 282.5h.01M228.0 318.6h.01M322.4 185.3h.01M353.8 174.4h.01M157.4 284.9h.01M246.5 216.6h.01M351.2 197.6h.01M174.4 250.8h.01M231.2 319.2h.01M372.3 190.0h.01M420.6 174.2h.01M328.2 208.9h.01M142.0 271.3h.01M211.3 300.7h.01M206.4 289.9h.01M208.6 241.2h.01M406.4 181.0h.01M206.6 289.8h.01M242.9 310.6h.01M172.8 285.8h.01M145.7 274.9h.01M286.2 199.5h.01M210.9 307.7h.01M253.3 297.0h.01M245.0 306.9h.01M273.8 204.8h.01M261.4 209.0h.01M162.4 282.8h.01M243.3 313.7h.01M198.4 287.6h.01M230.2 320.0h.01M343.8 203.3h.01M243.6 220.4h.01M216.8 238.2h.01M301.0 263.8h.01M411.3 181.5h.01M237.7 225.1h.01M162.4 282.8h.01M328.9 182.6h.01M306.6 253.4h.01M318.5 216.1h.01M395.1 170.7h.01M197.7 242.9h.01M335.0 205.2h.01M347.1 172.5h.01M276.5 203.4h.01M189.2 286.9h.01M305.0 259.2h.01M158.2 254.8h.01M321.4 213.0h.01M424.9 178.8h.01M192.5 242.6h.01M340.0 177.6h.01M325.9 186.2h.01M260.6 294.0h.01M235.1 317.6h.01M397.5 171.5h.01M312.8 186.7h.01M304.2 192.4h.01M334.4 206.1h.01M206.3 295.4h.01M419.8 177.6h.01M300.7 195.4h.01M397.5 185.3h.01M196.4 244.2h.01M339.1 177.5h.01M254.3 213.9h.01M222.2 234.6h.01M237.3 225.1h.01M141.3 267.6h.01M277.4 202.5h.01M360.0 194.8h.01M333.5 207.8h.01M209.2 301.9h.01M328.8 209.7h.01M338.4 202.8h.01M243.3 311.5h.01M341.1 201.2h.01M381.9 171.6h.01M381.6 187.6h.01M146.5 263.5h.01M285.1 279.2h.01M279.6 289.1h.01M339.4 202.0h.01M209.2 301.4h.01M353.0 171.6h.01M243.0 220.8h.01M388.6 170.6h.01M372.9 173.3h.01M222.4 235.3h.01M178.9 243.8h.01M308.0 255.3h.01M151.2 280.6h.01M287.4 197.0h.01M260.3 210.6h.01M191.7 244.4h.01M309.3 249.7h.01M222.7 318.5h.01M356.1 196.3h.01M419.8 178.6h.01M238.6 317.2h.01M306.7 253.5h.01M422.4 180.8h.01M317.6 186.4h.01M321.0 218.9h.01M328.7 208.4h.01M364.7 172.5h.01M327.6 184.8h.01M203.2 241.4h.01M369.6 193.4h.01M209.3 239.0h.01M333.5 178.2h.01M388.6 171.9h.01M356.2 196.9h.01M309.2 244.2h.01M238.3 223.6h.01M316.0 220.4h.01M266.7 208.2h.01M183.9 246.3h.01M167.3 285.1h.01M384.3 190.7h.01M301.0 268.0h.01M293.7 273.3h.01M408.1 182.6h.01M316.5 220.3h.01M214.2 311.8h.01M410.5 181.3h.01M317.7 187.2h.01M380.9 188.7h.01M300.9 264.1h.01M224.8 317.7h.01M276.8 287.0h.01M311.2 230.6h.01M288.8 198.0h.01M328.7 208.2h.01M209.8 240.8h.01M278.0 286.2h.01M211.0 307.4h.01M398.0 183.4h.01M342.9 201.2h.01M387.5 187.0h.01M286.7 278.8h.01M248.3 311.3h.01M312.0 237.9h.01M417.2 178.3h.01M355.6 173.3h.01M248.6 300.5h.01M245.8 306.5h.01M329.7 181.4h.01M372.9 170.1h.01M408.5 180.8h.01M371.4 191.3h.01M377.0 193.2h.01M205.4 239.9h.01M380.0 169.5h.01M311.2 241.8h.01M231.3 225.6h.01M281.5 201.4h.01M271.7 204.0h.01M315.5 219.9h.01M372.2 171.4h.01M165.9 283.5h.01M352.7 197.0h.01M240.7 314.9h.01M316.1 188.4h.01M205.6 242.3h.01M375.2 190.1h.01M157.5 282.8h.01M340.7 201.3h.01M243.6 312.6h.01M316.9 217.5h.01M276.2 287.6h.01M422.1 173.1h.01M218.5 236.9h.01M256.4 211.3h.01M180.2 285.1h.01M310.3 241.9h.01M171.9 252.6h.01M340.7 177.7h.01M172.6 285.3h.01M294.9 272.2h.01M280.7 200.7h.01M267.0 206.5h.01M294.2 196.9h.01M200.2 242.2h.01M287.0 197.6h.01M197.2 288.2h.01M306.2 252.8h.01M246.9 307.0h.01M420.8 174.8h.01M274.9 203.7h.01M316.9 219.9h.01M291.4 274.9h.01M288.5 275.8h.01M233.0 318.3h.01M259.7 211.4h.01M314.1 188.2h.01M362.4 172.4h.01M148.4 264.2h.01M254.8 214.0h.01M232.0 320.9h.01M165.4 252.2h.01M298.7 266.8h.01M402.5 189.5h.01M308.7 192.3h.01M285.3 280.9h.01M336.2 180.2h.01M276.9 198.9h.01M388.6 186.6h.01M373.4 191.3h.01M215.2 238.9h.01M305.8 259.0h.01M383.7 169.5h.01M238.7 224.2h.01M410.8 167.7h.01M208.0 239.3h.01M406.9 181.1h.01M143.9 265.0h.01M337.1 203.2h.01M147.2 278.5h.01M202.0 243.1h.01M203.9 242.4h.01M316.5 189.8h.01M402.2 171.0h.01M376.4 188.9h.01M290.4 196.9h.01M157.7 255.5h.01M381.9 171.9h.01M385.9 186.2h.01M346.8 175.6h.01M251.2 213.3h.01M176.5 250.4h.01M414.3 180.0h.01M159.6 283.8h.01M186.6 287.0h.01M158.4 258.6h.01M267.9 290.4h.01M340.0 202.8h.01M216.1 237.8h.01M313.4 221.8h.01M298.0 266.7h.01M317.1 224.4h.01M211.8 312.0h.01M259.5 210.9h.01M195.8 288.9h.01M171.9 250.0h.01M301.4 193.1h.01M210.8 305.8h.01M334.1 181.1h.01M338.6 206.2h.01M306.6 252.6h.01M159.9 256.7h.01M361.6 194.5h.01M357.4 173.4h.01M270.1 290.2h.01M276.6 199.8h.01M407.5 181.3h.01M160.6 283.7h.01M157.0 283.3h.01M312.3 234.0h.01M245.6 315.4h.01M237.4 319.8h.01M205.9 301.3h.01M247.2 310.3h.01M209.6 311.3h.01M210.2 312.0h.01M232.3 322.4h.01M233.1 322.3h.01M216.8 319.3h.01M235.7 321.7h.01M208.1 302.2h.01M222.6 321.4h.01M222.9 321.8h.01M209.7 312.2h.01M250.3 304.3h.01M223.4 321.5h.01M241.2 319.7h.01M251.2 305.0h.01M206.3 302.1h.01M254.8 303.2h.01M207.9 304.5h.01M248.4 307.9h.01M210.2 312.4h.01M250.4 309.7h.01M210.2 311.3h.01M212.0 315.3h.01M241.6 318.0h.01M220.5 320.6h.01M224.5 321.3h.01M249.1 306.1h.01M253.0 309.4h.01M251.3 305.8h.01M276.6 292.2h.01M264.0 298.6h.01M259.6 297.2h.01M233.5 325.4h.01M224.7 325.4h.01M179.4 312.7h.01M194.7 297.4h.01M202.3 294.9h.01M188.2 301.3h.01M188.2 304.2h.01M194.0 303.2h.01M193.3 296.9h.01M204.0 300.0h.01M203.5 304.5h.01M205.0 309.5h.01M207.5 315.5h.01M201.0 301.0h.01M198.5 298.5h.01M176.0 300.8h.01M181.5 300.5h.01" stroke="#0000ff" stroke-width="3.4" stroke-linecap="round" fill="none"/>
<g fill="#008000">
<polygon points="109.7,286.9 109.4,290.8 111.5,294.0 115.9,296.7 124.5,297.0 133.5,296.7 133.6,296.7 133.7,296.7 133.9,296.7 133.9,296.7 134.2,296.8 134.2,296.8 134.3,296.8 146.4,300.1 163.6,297.2 163.8,297.2 163.8,297.2 164.1,297.2 164.1,297.2 164.4,297.2 164.4,297.2 164.6,297.3 164.7,297.3 164.8,297.3 171.9,299.1 188.1,296.5 194.5,294.7 206.1,291.3 207.3,285.5 207.3,285.3 207.3,285.3 207.4,285.1 207.4,285.0 207.5,284.8 207.5,284.8 207.6,284.5 207.6,284.5 207.8,284.3 207.8,284.3 208.0,284.1 208.0,284.1 208.2,283.9 208.2,283.9 208.4,283.7 208.4,283.7 208.6,283.6 208.6,283.6 208.9,283.4 208.9,283.4 209.1,283.3 209.2,283.3 209.4,283.3 209.4,283.3 209.7,283.2 209.7,283.2 210.0,283.2 210.0,283.2 210.1,283.2 221.6,283.7 233.8,281.3 250.3,275.7 250.3,275.6 250.4,275.6 250.4,275.6 263.2,271.8 263.2,271.8 263.2,271.8 263.2,271.8 274.3,268.6 279.7,266.1 282.9,259.3 287.3,249.5 290.3,238.0 289.0,225.7 289.0,225.6 289.0,225.5 289.0,225.3 289.0,225.3 289.0,225.0 289.0,225.0 289.1,224.8 289.1,224.7 289.1,224.5 289.2,224.5 289.2,224.3 289.2,224.2 289.4,224.0 289.4,224.0 289.4,223.9 295.8,213.8 295.9,213.7 295.9,213.7 296.1,213.5 296.1,213.5 296.3,213.3 296.3,213.3 296.5,213.1 296.5,213.1 296.7,212.9 296.7,212.9 297.0,212.8 297.0,212.8 297.2,212.7 297.2,212.7 297.5,212.6 297.5,212.6 297.8,212.5 297.8,212.5 298.0,212.5 298.1,212.5 298.2,212.5 310.5,212.5 319.9,210.1 326.3,205.9 328.9,196.2 324.1,184.3 324.1,184.2 324.0,184.2 324.0,184.0 324.0,183.9 323.9,183.7 323.9,183.7 323.9,183.4 323.9,183.4 323.9,183.1 323.9,183.1 323.9,182.8 323.9,182.8 324.0,182.6 324.0,182.6 324.1,182.3 324.1,182.3 324.2,182.1 324.2,182.0 324.3,181.8 324.3,181.8 324.5,181.6 324.5,181.6 324.7,181.4 324.7,181.4 324.9,181.2 324.9,181.2 325.1,181.0 325.1,181.0 325.3,180.9 325.3,180.9 325.6,180.7 325.6,180.7 325.8,180.6 325.9,180.6 326.0,180.6 345.1,175.5 345.2,175.5 345.2,175.5 345.5,175.4 345.5,175.4 345.8,175.4 345.8,175.4 346.0,175.4 346.1,175.4 346.2,175.4 363.6,177.9 381.0,175.4 381.1,175.4 381.1,175.4 381.4,175.4 381.4,175.4 381.6,175.4 381.7,175.4 381.9,175.4 381.9,175.4 382.0,175.5 400.5,179.7 414.0,179.8 420.7,177.2 427.4,173.9 430.9,170.6 432.9,165.4 432.9,165.3 432.9,165.3 433.0,165.1 433.0,165.1 433.1,165.0 435.6,160.6 435.6,160.5 435.6,160.5 435.8,160.3 435.8,160.3 436.0,160.1 436.0,160.1 436.1,159.9 436.2,159.9 436.4,159.7 436.4,159.7 436.6,159.6 436.6,159.6 436.8,159.5 436.8,159.5 437.1,159.4 437.1,159.4 437.3,159.3 437.3,159.3 437.6,159.2 437.6,159.2 437.9,159.2 437.9,159.2 438.0,159.2 457.2,159.2 459.8,156.3 460.7,149.0 459.2,139.4 459.2,139.3 459.2,139.3 459.2,139.1 459.2,139.0 459.2,138.8 459.2,138.8 459.2,138.7 459.8,133.7 459.8,133.5 459.8,133.5 459.9,133.3 459.9,133.3 460.0,133.1 460.0,133.0 460.1,132.8 460.1,132.8 460.2,132.6 460.2,132.6 460.3,132.4 460.3,132.4 460.4,132.3 463.3,128.6 463.4,128.5 463.4,128.5 463.6,128.3 463.6,128.3 463.8,128.1 463.8,128.1 464.0,127.9 464.0,127.9 464.2,127.8 464.2,127.8 464.5,127.7 464.5,127.7 464.6,127.6 470.3,125.7 470.5,125.7 470.5,125.7 470.6,125.7 477.5,124.2 480.7,121.4 481.6,120.4 481.5,120.1 477.9,118.5 473.3,117.3 473.2,117.3 473.2,117.3 473.1,117.3 467.0,115.2 456.4,115.6 441.3,117.6 441.2,117.6 441.2,117.6 441.2,117.6 428.9,118.7 422.5,121.4 419.2,124.3 415.1,131.1 415.0,131.2 415.0,131.2 414.8,131.4 414.8,131.4 414.7,131.6 414.6,131.6 414.5,131.7 408.3,137.2 406.7,142.9 406.7,143.1 406.7,143.1 406.6,143.3 406.6,143.3 406.5,143.6 406.4,143.6 406.3,143.8 406.3,143.8 406.1,144.0 406.1,144.0 406.0,144.2 405.9,144.2 405.8,144.4 405.7,144.4 405.5,144.5 405.5,144.5 405.3,144.7 405.3,144.7 405.1,144.8 405.0,144.8 404.8,144.9 404.8,144.9 404.6,144.9 404.5,144.9 404.4,145.0 394.5,146.4 384.6,150.0 384.4,150.1 384.4,150.1 384.1,150.2 384.1,150.2 384.0,150.2 372.8,151.6 365.9,155.0 365.8,155.1 365.8,155.1 365.6,155.2 365.6,155.2 365.3,155.2 365.3,155.2 365.1,155.3 365.1,155.3 365.0,155.3 356.8,156.0 349.9,159.4 349.8,159.5 349.8,159.5 349.6,159.5 349.6,159.6 349.5,159.6 337.8,163.0 329.0,165.6 328.9,165.6 328.9,165.6 328.6,165.7 328.6,165.7 328.3,165.7 328.3,165.7 328.2,165.7 306.8,165.7 299.9,168.0 290.2,171.4 285.7,173.9 287.0,180.0 287.1,180.1 287.1,180.1 287.1,180.4 287.1,180.4 287.1,180.7 287.1,180.7 287.1,180.9 287.1,181.0 287.0,181.2 287.0,181.2 287.0,181.5 287.0,181.5 286.9,181.7 286.9,181.7 286.7,182.0 286.7,182.0 286.6,182.2 286.6,182.2 286.4,182.4 286.4,182.4 286.2,182.6 286.2,182.6 286.0,182.8 286.0,182.8 285.8,183.0 285.8,183.0 285.6,183.1 285.6,183.1 285.5,183.2 274.2,188.3 274.0,188.3 274.0,188.3 273.9,188.4 265.5,191.1 260.0,194.7 255.1,199.6 255.8,207.4 255.8,207.5 255.8,207.6 255.8,207.8 255.3,216.3 256.6,227.7 256.6,227.8 256.6,227.9 256.6,228.0 256.6,232.0 256.6,232.1 256.6,232.1 256.6,232.4 256.6,232.4 256.5,232.7 256.5,232.7 256.4,232.9 256.4,232.9 256.3,233.2 256.3,233.2 256.3,233.3 252.5,240.6 252.4,240.7 252.4,240.7 252.4,240.8 248.4,247.3 248.3,247.4 248.3,247.4 248.2,247.6 248.2,247.6 248.0,247.8 248.0,247.8 247.9,247.9 241.9,253.4 241.8,253.5 241.8,253.5 241.5,253.7 241.5,253.7 241.4,253.7 233.4,258.2 233.3,258.3 233.3,258.3 233.2,258.3 223.0,263.1 222.9,263.2 222.8,263.2 222.6,263.3 222.5,263.3 222.3,263.4 222.2,263.4 222.1,263.4 210.4,264.6 196.8,267.1 196.7,267.1 196.6,267.1 196.5,267.1 172.1,269.0 154.4,271.6 154.3,271.6 154.3,271.6 154.2,271.6 145.8,272.1 137.8,273.7 131.2,276.1 125.4,279.4 125.3,279.5 125.3,279.5 125.2,279.5 118.5,282.7 113.2,285.3 113.2,285.3 113.2,285.3 113.1,285.4 109.7,286.9"/>
</g>
<path d="M217.2 261.2h.01M326.4 180.9h.01M402.4 144.6h.01M284.2 257.0h.01M256.5 230.9h.01M353.2 157.1h.01M298.0 213.7h.01M356.6 177.7h.01M280.6 184.4h.01M411.6 180.1h.01M459.0 134.8h.01M118.1 282.1h.01M363.1 177.1h.01M269.2 270.6h.01M335.1 163.7h.01M453.3 115.7h.01M258.8 196.6h.01M328.8 182.2h.01M178.1 297.3h.01M371.8 152.4h.01M119.3 300.6h.01M326.5 207.7h.01M200.4 266.4h.01M458.5 158.7h.01M255.1 200.5h.01M325.8 186.5h.01M259.9 275.9h.01M255.3 201.3h.01M107.0 294.1h.01M404.0 145.8h.01M328.8 183.2h.01M327.3 194.0h.01M261.1 273.1h.01M446.4 158.3h.01M248.0 279.2h.01M407.3 141.2h.01M437.0 159.7h.01M129.0 274.9h.01M328.1 203.2h.01M327.6 198.1h.01M167.7 302.2h.01M184.2 266.5h.01M154.8 299.3h.01M187.5 300.9h.01M279.6 185.1h.01M459.3 138.7h.01M179.1 297.5h.01M351.1 176.5h.01M288.1 249.2h.01M466.6 114.6h.01M315.3 166.1h.01M472.3 125.0h.01M276.9 269.1h.01M173.5 268.8h.01M280.7 184.0h.01M225.1 282.2h.01M335.0 178.5h.01M256.1 221.2h.01M278.4 185.5h.01M281.0 266.0h.01M160.4 298.7h.01M282.1 262.3h.01M346.7 174.9h.01M237.0 279.5h.01M326.5 192.4h.01M152.6 270.5h.01M463.5 158.2h.01M420.3 123.7h.01M309.3 212.4h.01M414.1 129.0h.01M242.3 253.2h.01M406.7 143.9h.01M388.7 176.8h.01M463.8 128.9h.01M259.4 272.6h.01M125.8 299.6h.01M248.7 240.7h.01M469.7 125.7h.01M326.1 189.2h.01M288.9 232.9h.01M322.2 210.6h.01M284.8 256.1h.01M465.3 127.0h.01M411.7 181.6h.01M460.3 147.7h.01M115.3 295.9h.01M246.1 277.3h.01M157.0 297.9h.01M107.2 291.7h.01M436.3 159.4h.01M430.7 169.6h.01M441.9 161.3h.01M462.7 156.9h.01M299.6 168.1h.01M426.1 119.0h.01M119.9 282.6h.01M159.2 301.5h.01M296.5 212.9h.01M282.0 182.9h.01M482.0 121.2h.01M298.4 166.3h.01M269.2 190.8h.01M431.3 167.0h.01M205.7 292.6h.01M260.3 194.4h.01M225.0 282.7h.01M165.0 296.9h.01M337.3 160.3h.01M130.8 270.1h.01M287.9 181.2h.01M328.4 193.7h.01M274.4 268.8h.01M160.2 299.3h.01M266.1 190.6h.01M197.3 267.8h.01M341.3 175.8h.01M246.0 281.1h.01M392.3 177.1h.01M254.8 206.5h.01M457.6 116.4h.01M177.5 297.2h.01M159.2 297.7h.01M350.5 178.9h.01M210.3 264.1h.01M311.6 165.6h.01M454.3 115.6h.01M480.5 121.6h.01M323.5 183.9h.01M306.7 212.2h.01M140.6 300.0h.01M203.4 266.0h.01M385.7 176.7h.01M308.6 164.4h.01M222.8 263.5h.01M470.5 128.4h.01M278.2 266.8h.01M194.5 294.0h.01M254.2 215.8h.01M472.6 125.9h.01M242.4 254.2h.01M410.9 181.2h.01M401.8 180.1h.01M463.8 128.0h.01M338.7 176.7h.01M115.9 299.0h.01M367.7 178.0h.01M267.8 270.7h.01M432.5 165.9h.01M405.5 143.4h.01M290.9 220.9h.01M315.5 165.4h.01M368.8 152.9h.01M153.3 268.9h.01M220.0 283.8h.01M265.8 270.5h.01M188.3 268.7h.01M417.7 125.7h.01M228.6 259.6h.01M254.7 276.0h.01M236.6 280.6h.01M206.5 289.1h.01M281.5 265.4h.01M188.2 296.3h.01M402.1 179.0h.01M269.3 190.5h.01M345.8 175.9h.01M266.9 270.6h.01M241.7 278.0h.01M459.8 151.1h.01M215.0 261.8h.01M474.9 126.7h.01M126.4 297.7h.01M341.9 162.0h.01M144.0 300.1h.01M319.0 166.7h.01M415.3 131.7h.01M285.2 175.4h.01M223.0 284.3h.01M243.4 279.7h.01M331.1 180.1h.01M327.8 201.5h.01M330.3 165.7h.01M153.9 270.3h.01M284.9 259.4h.01M202.1 293.4h.01M145.9 299.8h.01M407.1 184.8h.01M460.2 155.8h.01M446.3 160.0h.01M468.2 113.2h.01M356.7 176.6h.01M347.3 175.8h.01M459.2 136.2h.01M185.2 264.2h.01M215.8 264.7h.01M324.4 187.7h.01M144.5 272.9h.01M165.4 270.1h.01M233.6 281.5h.01M112.4 296.8h.01M464.7 130.9h.01M223.8 262.4h.01M410.7 135.4h.01M119.7 282.6h.01M198.9 292.4h.01M441.8 116.9h.01M155.8 269.3h.01M328.0 192.6h.01M343.8 160.3h.01M448.5 116.1h.01M424.3 174.6h.01M325.0 209.6h.01M309.2 214.0h.01M368.0 154.8h.01M111.6 283.2h.01M317.9 166.0h.01M370.9 176.7h.01M212.3 286.3h.01M229.6 260.8h.01M296.2 216.0h.01M284.6 254.3h.01M327.3 192.4h.01M418.7 125.8h.01M294.5 168.6h.01M400.9 145.3h.01M460.0 149.2h.01M332.9 178.0h.01M122.6 280.4h.01M427.9 173.5h.01M241.3 252.9h.01M229.0 281.5h.01M460.8 152.1h.01M286.9 174.1h.01M208.5 284.1h.01M327.8 197.7h.01M365.8 179.1h.01M249.1 246.3h.01M139.1 298.8h.01M257.4 194.2h.01M120.9 296.0h.01M393.8 144.8h.01M148.3 271.1h.01M198.2 294.0h.01M219.1 264.1h.01M182.3 268.8h.01M331.1 199.3h.01M160.0 271.2h.01M149.9 271.9h.01M195.1 293.8h.01M206.3 287.7h.01M208.6 289.9h.01M122.3 296.6h.01M117.6 283.3h.01M248.5 246.4h.01M169.4 267.1h.01M458.4 140.2h.01M198.7 295.1h.01M212.9 265.3h.01M239.9 253.9h.01M330.7 165.8h.01M328.7 206.9h.01M433.0 166.6h.01M325.0 206.1h.01M297.5 212.4h.01M347.1 177.7h.01M243.2 253.4h.01M436.3 117.5h.01M363.4 179.6h.01M129.1 273.2h.01M208.4 282.9h.01M199.3 296.9h.01M244.8 278.0h.01M356.0 177.9h.01M358.0 155.0h.01M176.8 301.1h.01M345.9 160.5h.01M365.7 152.8h.01M333.0 162.3h.01M323.8 182.8h.01M224.1 261.7h.01M368.2 153.0h.01M131.2 298.5h.01M296.7 212.9h.01M291.0 170.2h.01M241.5 278.0h.01M255.6 226.5h.01M334.3 164.0h.01M475.1 117.8h.01M118.2 296.1h.01M328.8 180.6h.01M432.6 118.7h.01M122.6 281.7h.01M463.8 128.8h.01M242.9 282.7h.01M420.6 177.7h.01M331.8 180.0h.01M147.3 299.3h.01M316.0 166.1h.01M206.2 291.1h.01M346.8 177.6h.01M457.7 160.1h.01M136.8 275.1h.01M402.3 180.5h.01M461.3 156.7h.01M224.1 263.0h.01M213.0 283.6h.01M354.3 176.4h.01M435.8 118.5h.01M422.8 178.1h.01M400.0 145.9h.01M194.2 267.3h.01M144.4 301.7h.01M229.9 260.9h.01M412.6 128.5h.01M396.8 144.5h.01M288.4 245.2h.01M418.6 126.6h.01M173.1 302.6h.01M450.8 159.6h.01M460.7 116.4h.01M172.8 268.9h.01M144.7 271.7h.01M323.8 213.6h.01M250.4 240.2h.01M465.2 114.6h.01M295.3 169.7h.01M254.9 214.0h.01M305.8 165.7h.01M331.7 164.9h.01M289.1 238.6h.01M441.1 159.4h.01M344.0 159.9h.01M452.4 159.4h.01M226.4 262.5h.01M254.5 200.2h.01M192.3 299.2h.01M271.8 270.3h.01M460.4 159.8h.01M255.7 202.4h.01M292.4 219.2h.01M264.8 192.5h.01M392.6 178.3h.01M232.3 282.1h.01M110.2 285.8h.01M218.8 283.5h.01M295.9 169.4h.01M199.3 263.1h.01M286.4 262.6h.01M440.2 116.8h.01M110.5 292.8h.01M326.6 207.0h.01M404.8 141.0h.01M459.2 135.0h.01M341.7 176.2h.01M120.7 281.0h.01M256.0 224.8h.01M293.1 229.1h.01M413.9 128.3h.01M298.5 212.1h.01M199.1 298.1h.01M108.1 287.4h.01M263.7 272.7h.01M352.2 158.1h.01M289.1 171.4h.01M354.9 150.8h.01M290.2 172.3h.01M129.9 296.7h.01M457.0 158.2h.01M114.3 295.9h.01M448.7 116.0h.01M288.9 245.1h.01M375.8 176.4h.01M322.5 208.3h.01M429.9 170.2h.01M173.8 298.5h.01M293.6 217.9h.01M296.5 211.9h.01M230.0 282.9h.01M386.2 149.6h.01M391.9 183.1h.01M448.6 161.9h.01M285.5 180.9h.01M292.7 237.8h.01M240.4 248.1h.01M333.1 165.3h.01M386.7 177.4h.01M451.1 158.8h.01M254.5 207.6h.01M339.2 177.4h.01M461.2 151.5h.01M313.7 211.0h.01M432.4 165.1h.01M254.6 236.9h.01M375.9 175.3h.01M209.3 264.8h.01M459.6 154.4h.01M273.6 188.5h.01M382.7 175.7h.01M175.1 267.2h.01M385.8 150.4h.01M378.5 177.7h.01M184.2 298.7h.01M400.3 179.0h.01M325.1 182.1h.01M223.0 261.7h.01M432.0 169.3h.01M462.9 134.4h.01M130.5 297.9h.01M179.3 298.5h.01M256.0 193.6h.01M368.0 151.5h.01M368.7 177.3h.01M240.3 279.2h.01M431.5 118.5h.01M458.0 116.1h.01M146.8 300.9h.01M207.4 287.7h.01M159.4 270.7h.01M307.6 213.5h.01M256.2 212.4h.01M110.1 287.5h.01M285.2 184.0h.01M274.4 269.1h.01M155.5 272.1h.01M348.7 176.7h.01M294.9 213.6h.01M254.8 204.4h.01M302.9 166.1h.01M207.9 265.8h.01M138.4 297.1h.01M395.3 143.7h.01M364.2 177.8h.01M313.2 213.8h.01M328.3 166.6h.01M145.8 268.6h.01M371.2 151.8h.01M466.6 115.5h.01M155.8 298.2h.01M454.3 159.8h.01M450.5 160.9h.01M162.2 271.4h.01M283.4 183.3h.01M459.8 146.9h.01M377.0 151.6h.01M367.8 177.4h.01M453.9 159.2h.01M462.7 115.8h.01M243.4 277.3h.01M421.3 176.7h.01M437.9 117.2h.01M340.3 161.5h.01M170.7 300.6h.01M210.7 286.7h.01M392.7 178.5h.01M358.5 154.1h.01M389.6 176.3h.01M208.1 291.5h.01M219.2 283.1h.01M387.1 148.3h.01M411.5 131.4h.01M261.2 194.0h.01M463.2 115.5h.01M444.8 159.4h.01M280.6 264.7h.01M436.7 160.2h.01M365.9 176.7h.01M204.4 265.1h.01M348.1 175.8h.01M121.8 296.4h.01M461.0 153.6h.01M460.3 146.9h.01M463.3 114.7h.01M145.8 270.9h.01M423.9 175.1h.01M368.9 177.4h.01M216.6 263.9h.01M439.8 118.5h.01M211.3 282.8h.01M234.6 258.1h.01M199.7 294.3h.01M245.2 250.9h.01M290.2 236.0h.01M185.6 297.4h.01M253.6 221.3h.01M280.7 181.1h.01M333.4 163.5h.01M256.4 205.5h.01M391.8 178.1h.01M251.3 240.2h.01M129.0 277.0h.01M236.9 253.7h.01M473.7 116.7h.01M308.3 165.9h.01M137.4 298.0h.01M339.8 178.5h.01M400.7 179.6h.01M234.3 281.5h.01M197.8 293.1h.01M204.6 291.2h.01M157.3 298.2h.01M338.0 163.0h.01M156.7 269.7h.01M327.4 194.3h.01M252.8 238.1h.01M363.1 155.4h.01M311.3 213.9h.01M406.2 137.1h.01M348.2 159.0h.01M359.1 176.5h.01M459.9 160.0h.01M246.8 249.3h.01M396.5 177.9h.01M214.8 284.1h.01M392.4 177.4h.01M117.1 283.5h.01M459.0 134.4h.01M356.4 177.7h.01M465.0 115.9h.01M312.4 213.0h.01M341.1 160.5h.01M413.9 132.6h.01M126.0 279.4h.01M296.4 215.9h.01M397.5 145.1h.01M368.7 154.5h.01M312.7 213.5h.01M256.6 222.9h.01M314.5 166.5h.01M181.7 267.8h.01M414.0 132.0h.01M283.7 183.1h.01M431.3 174.5h.01M328.9 197.8h.01M259.2 194.6h.01M253.1 274.1h.01M123.3 297.9h.01M146.7 272.9h.01M428.2 177.6h.01M254.6 274.7h.01M406.0 180.5h.01M283.2 173.3h.01M204.5 264.3h.01M254.2 196.4h.01M325.2 206.3h.01M157.1 269.6h.01M433.4 163.5h.01M164.2 269.8h.01M452.1 158.6h.01M276.7 188.2h.01M250.7 216.2h.01M252.7 212.4h.01M421.8 121.8h.01M396.6 178.5h.01M460.2 131.8h.01M367.2 154.6h.01M302.0 214.8h.01M230.8 284.7h.01M207.7 287.5h.01M329.3 164.8h.01M284.2 257.2h.01M284.5 262.3h.01M352.7 177.4h.01M163.7 297.6h.01M114.8 295.4h.01M303.9 167.6h.01M268.6 271.5h.01M196.7 265.4h.01M152.2 269.2h.01M400.4 179.3h.01M184.6 296.5h.01M244.1 250.9h.01M169.4 270.0h.01M370.6 151.8h.01M110.3 290.2h.01M422.6 118.9h.01M410.3 135.9h.01M395.0 180.1h.01M412.8 133.2h.01M283.2 257.8h.01M286.5 181.6h.01M295.3 213.3h.01M352.0 158.2h.01M327.7 197.3h.01M461.0 149.4h.01M426.5 174.4h.01M208.6 282.8h.01M430.2 171.9h.01M417.8 127.1h.01M194.2 296.4h.01M358.9 179.7h.01M178.2 297.5h.01M126.0 278.6h.01M286.3 170.8h.01M440.7 159.1h.01M305.7 214.0h.01M480.5 119.2h.01M286.1 182.8h.01M406.6 143.5h.01M334.6 177.8h.01M298.3 168.4h.01M412.8 133.9h.01M461.2 115.2h.01M464.8 115.0h.01M437.3 117.6h.01M434.1 172.7h.01M108.3 291.9h.01M417.8 126.1h.01M364.2 179.6h.01M329.2 198.9h.01M256.9 227.6h.01M473.4 127.7h.01M256.2 232.1h.01M222.0 283.4h.01M222.1 284.5h.01M433.9 119.1h.01M172.8 301.0h.01M409.8 135.4h.01M251.9 243.1h.01M336.0 160.8h.01M405.0 143.1h.01M243.3 252.4h.01M367.0 153.5h.01M136.2 298.9h.01M356.9 176.3h.01M327.8 201.7h.01M270.8 184.4h.01M254.5 202.6h.01M383.2 175.5h.01M407.2 180.0h.01M179.2 268.7h.01M335.8 164.5h.01M431.7 168.6h.01M182.9 297.4h.01M466.0 126.7h.01M121.6 297.1h.01M447.4 159.8h.01M181.6 265.7h.01M371.1 151.5h.01M283.9 261.5h.01M183.8 268.5h.01M486.7 121.9h.01M417.6 121.4h.01M334.6 164.2h.01M327.5 164.2h.01M136.1 273.7h.01M463.7 153.8h.01M452.4 162.5h.01M455.7 115.2h.01M382.5 150.9h.01M198.8 267.5h.01M143.2 299.3h.01M249.5 246.8h.01M263.2 273.8h.01M117.7 297.3h.01M265.2 272.1h.01M399.2 146.7h.01M131.0 298.3h.01M253.3 273.8h.01M256.0 228.7h.01M327.1 165.8h.01M406.5 142.1h.01M207.4 290.8h.01M238.0 279.7h.01M326.8 164.9h.01M286.8 180.7h.01M204.3 265.3h.01M112.8 294.1h.01M235.5 257.0h.01M468.6 115.5h.01M360.4 177.4h.01M354.6 156.5h.01M255.2 202.2h.01M423.8 176.6h.01M288.3 224.0h.01M409.3 179.6h.01M219.8 283.1h.01M244.2 248.9h.01M188.6 296.0h.01M348.8 158.3h.01M136.2 274.8h.01M255.8 215.9h.01M328.3 189.5h.01M402.5 143.0h.01M147.7 301.7h.01M193.1 294.5h.01M383.0 174.8h.01M406.5 143.7h.01M416.1 127.6h.01M270.8 189.2h.01M313.0 212.7h.01M326.7 165.2h.01M266.5 190.4h.01M326.4 166.2h.01M432.5 166.3h.01M388.1 149.2h.01M285.4 252.1h.01M238.8 280.9h.01M293.5 169.7h.01M372.4 178.2h.01M437.0 159.8h.01M365.7 177.5h.01M196.1 295.1h.01M431.3 118.4h.01M461.5 153.1h.01M255.7 205.6h.01M228.3 282.2h.01M164.3 270.7h.01M239.0 251.7h.01M434.6 117.6h.01M129.3 278.2h.01M427.9 173.9h.01M466.3 127.1h.01M465.0 128.7h.01M423.3 120.5h.01M314.8 211.1h.01M380.4 174.7h.01M254.9 233.6h.01M309.9 166.4h.01M106.3 290.7h.01M207.6 284.3h.01M214.2 264.5h.01M116.2 284.6h.01M462.1 136.1h.01M369.0 176.5h.01M289.9 223.7h.01M374.1 151.7h.01M129.7 296.1h.01M172.5 268.7h.01M302.6 213.4h.01M192.3 266.9h.01M218.6 264.2h.01M144.1 269.8h.01M395.4 177.5h.01M344.8 160.5h.01M289.2 241.5h.01M190.5 296.0h.01M459.8 150.0h.01M205.3 292.2h.01M402.2 180.1h.01M433.9 162.0h.01M429.5 172.4h.01M364.7 177.7h.01M162.0 298.1h.01M158.5 298.9h.01M459.8 155.4h.01M479.6 121.6h.01M355.5 156.0h.01M290.0 241.6h.01M460.2 141.0h.01M209.6 283.9h.01M178.8 267.6h.01M113.7 294.2h.01M255.0 201.5h.01M248.6 278.7h.01M326.7 204.5h.01M304.9 213.7h.01M141.7 300.3h.01M254.9 209.0h.01M213.4 264.2h.01M255.0 274.9h.01M285.3 262.3h.01M463.2 129.2h.01M221.5 261.9h.01M177.1 268.9h.01M255.5 224.7h.01M293.0 222.5h.01M302.7 167.2h.01M411.4 180.5h.01M276.9 266.9h.01M259.9 271.8h.01M319.2 162.2h.01M324.6 184.9h.01M256.9 231.0h.01M144.6 300.9h.01M326.2 203.2h.01M459.4 154.9h.01M137.5 274.4h.01M351.5 158.6h.01M159.8 298.6h.01M214.5 263.8h.01M391.2 179.1h.01M338.6 178.0h.01M135.0 273.9h.01M163.6 296.9h.01M290.1 228.8h.01M290.0 233.3h.01M181.2 298.5h.01M263.2 191.5h.01M366.2 148.0h.01M436.0 160.6h.01M345.7 174.9h.01M255.6 206.6h.01M440.4 158.4h.01M342.9 162.2h.01M430.6 118.3h.01M319.8 164.5h.01M410.2 135.8h.01M184.6 296.2h.01M395.7 180.6h.01M292.5 220.7h.01M285.7 181.9h.01M233.2 256.5h.01M332.7 163.9h.01M285.2 257.0h.01M277.3 187.4h.01M460.3 157.1h.01M474.3 124.5h.01M183.0 297.2h.01M125.2 297.0h.01M208.0 283.5h.01M332.0 162.7h.01M320.0 212.6h.01M259.0 195.8h.01M282.7 258.2h.01M344.9 175.1h.01M459.9 131.8h.01M247.3 247.8h.01M370.3 178.4h.01M447.9 159.4h.01M229.4 259.8h.01M330.4 182.6h.01M237.7 280.0h.01M240.3 253.5h.01M326.5 189.8h.01M236.5 255.7h.01M478.5 116.6h.01M460.5 132.6h.01M189.5 297.7h.01M331.6 164.8h.01M196.1 266.4h.01M180.6 267.4h.01M334.6 178.5h.01M289.3 226.1h.01M207.0 261.9h.01M365.9 155.1h.01M210.5 265.5h.01M463.2 132.5h.01M431.3 171.4h.01M165.8 268.2h.01M119.8 298.0h.01M322.7 208.8h.01M337.8 162.7h.01M133.8 274.2h.01M400.2 146.3h.01M185.0 297.6h.01M460.1 145.3h.01M313.2 162.8h.01M458.8 158.1h.01M160.8 299.1h.01M448.8 158.2h.01M375.0 150.6h.01M331.2 163.5h.01M465.1 116.1h.01M416.3 130.0h.01M230.6 260.1h.01M177.6 298.8h.01M445.7 160.9h.01M159.8 299.5h.01M461.2 148.5h.01M186.0 297.5h.01M459.9 138.5h.01M450.8 115.8h.01M160.9 302.2h.01M394.8 182.0h.01M398.0 179.9h.01M223.7 282.5h.01M155.9 298.3h.01M300.2 212.2h.01M474.7 125.1h.01M145.7 299.2h.01M426.2 119.6h.01M144.3 269.8h.01M255.6 220.3h.01M338.9 162.9h.01M132.1 274.9h.01M275.6 267.5h.01M225.7 282.0h.01M364.9 177.3h.01M434.8 114.7h.01M116.4 297.3h.01M379.5 151.7h.01M248.3 246.1h.01M185.3 266.5h.01M401.0 145.8h.01M426.5 120.3h.01M106.6 289.7h.01M200.2 265.5h.01M223.1 262.4h.01M195.2 267.2h.01M165.2 269.9h.01M335.6 177.1h.01M401.3 143.0h.01M293.8 170.3h.01M450.8 158.5h.01M289.9 221.7h.01M417.3 178.1h.01M239.5 255.8h.01M191.2 268.4h.01M180.6 267.2h.01M299.2 167.8h.01M175.7 268.3h.01M355.0 177.1h.01M172.8 269.8h.01M375.9 175.3h.01M346.2 175.0h.01M268.7 189.7h.01M254.0 236.7h.01M241.2 277.9h.01M291.6 220.6h.01M287.6 250.1h.01M113.9 298.3h.01M228.1 260.0h.01M285.6 173.2h.01M450.0 161.2h.01M254.3 236.0h.01M283.6 180.1h.01M299.5 166.1h.01M285.7 182.3h.01M293.0 220.9h.01M255.7 214.2h.01M286.5 181.0h.01M308.0 212.9h.01M288.5 228.5h.01M275.0 184.6h.01M308.9 212.1h.01M256.5 219.2h.01M242.4 251.6h.01M376.0 176.6h.01M209.1 290.7h.01M178.4 298.9h.01M465.8 115.9h.01M425.1 175.1h.01M282.1 266.1h.01M153.2 298.1h.01M205.7 266.1h.01M376.6 150.4h.01M462.5 129.8h.01M234.6 282.0h.01M330.1 179.0h.01M314.8 166.2h.01M264.6 271.7h.01M285.6 182.1h.01M430.5 173.3h.01M364.1 154.5h.01M267.6 270.4h.01M352.6 175.8h.01M434.1 164.5h.01M380.3 176.0h.01M282.5 178.9h.01M223.0 264.1h.01M252.1 207.7h.01M315.5 213.7h.01M106.3 289.3h.01M348.7 177.6h.01M281.9 262.2h.01M476.5 124.4h.01M365.1 177.1h.01M165.0 299.2h.01M218.5 261.9h.01M256.6 199.1h.01M449.0 159.9h.01M265.3 273.0h.01M260.5 195.0h.01M255.7 222.8h.01M234.0 257.6h.01M240.2 248.9h.01M418.8 125.6h.01M256.8 221.8h.01M129.5 298.7h.01M218.0 283.0h.01M255.2 202.9h.01M163.8 269.8h.01M270.7 189.6h.01M190.3 266.2h.01M259.7 193.7h.01M362.0 177.9h.01M313.2 164.1h.01M166.5 301.1h.01M363.7 178.2h.01M287.2 256.1h.01M255.9 217.9h.01M322.8 211.4h.01M195.8 267.1h.01M213.1 283.1h.01M459.7 115.3h.01M352.1 176.0h.01M248.1 278.8h.01M153.4 299.5h.01M158.7 297.4h.01M174.3 301.3h.01M144.9 272.9h.01M336.9 163.2h.01M426.5 175.1h.01M255.8 204.8h.01M356.7 177.0h.01M290.8 241.5h.01M160.5 302.5h.01M171.6 298.2h.01M194.0 263.4h.01M268.1 189.0h.01M415.7 128.7h.01M264.3 192.4h.01M419.5 124.6h.01M148.4 301.8h.01M326.4 180.5h.01M159.9 269.6h.01M454.6 159.9h.01M305.5 161.5h.01M215.3 284.1h.01M468.6 127.7h.01M455.7 115.6h.01M334.8 162.8h.01M266.5 269.9h.01M400.2 145.9h.01M280.5 185.4h.01M285.6 173.9h.01M387.4 149.9h.01M256.2 212.4h.01M389.5 182.8h.01M330.7 165.3h.01M444.6 159.1h.01M422.1 122.6h.01M212.3 265.0h.01M458.8 116.4h.01M256.0 200.5h.01M347.9 175.3h.01M329.2 194.8h.01M246.4 244.3h.01M139.4 273.4h.01M419.5 120.7h.01M296.5 169.9h.01M428.5 171.5h.01M415.3 130.9h.01M365.0 153.7h.01M431.4 170.6h.01M355.6 157.0h.01M365.3 180.2h.01M130.9 296.5h.01M330.1 180.8h.01M231.7 281.9h.01M256.6 220.9h.01M402.1 180.4h.01M124.4 298.1h.01M317.5 160.9h.01M255.3 197.2h.01M345.1 179.2h.01M414.9 179.2h.01M268.3 190.9h.01M437.0 159.9h.01M186.5 296.8h.01M341.4 176.6h.01M407.3 183.4h.01M446.2 116.1h.01M255.8 220.8h.01M276.2 267.5h.01M385.4 176.7h.01M379.6 175.5h.01M342.8 160.8h.01M247.1 247.3h.01M253.5 224.0h.01M185.8 297.2h.01M328.3 201.1h.01M419.9 123.3h.01M462.9 136.0h.01M450.9 115.8h.01M324.6 186.1h.01M462.0 131.3h.01M155.0 272.0h.01M282.2 267.8h.01M287.0 180.5h.01M439.0 159.5h.01M292.3 237.9h.01M236.5 257.4h.01M191.0 294.7h.01M305.4 162.5h.01M139.8 272.7h.01M459.8 155.7h.01M127.6 296.4h.01M110.6 284.9h.01M473.9 124.3h.01M321.5 209.6h.01M296.3 213.5h.01M207.2 293.5h.01M370.6 177.7h.01M441.1 159.9h.01M404.4 145.7h.01M483.0 121.5h.01M387.7 176.4h.01M255.9 233.3h.01M452.9 116.6h.01M280.2 264.7h.01M290.2 238.2h.01M325.5 188.1h.01M313.3 164.1h.01M287.3 247.7h.01M333.9 179.1h.01M292.9 218.9h.01M329.1 205.4h.01M306.0 165.8h.01M282.1 260.4h.01M151.3 271.9h.01M471.2 125.3h.01M297.4 212.5h.01M326.1 208.7h.01M156.9 300.0h.01M287.0 175.7h.01M108.8 288.7h.01M115.1 284.4h.01M327.9 201.8h.01M471.1 116.3h.01M132.8 276.5h.01M324.5 181.8h.01M420.5 177.1h.01M140.8 299.0h.01M169.2 298.4h.01M353.5 155.2h.01M389.7 176.5h.01M466.9 126.0h.01M245.3 277.0h.01M256.3 206.9h.01M459.3 114.7h.01M162.9 298.8h.01M460.1 133.3h.01M289.1 235.3h.01M399.7 182.9h.01M462.7 135.1h.01M300.6 168.1h.01M411.1 135.3h.01M153.8 271.3h.01M318.2 209.5h.01M425.6 173.7h.01M302.6 211.6h.01M345.0 160.7h.01M407.0 179.3h.01M408.5 180.2h.01M154.5 272.2h.01M433.7 163.4h.01M357.9 177.8h.01M460.1 157.4h.01M290.4 227.4h.01M223.9 260.5h.01M244.3 251.6h.01M369.0 153.5h.01M237.2 254.8h.01M469.7 116.8h.01M405.2 145.1h.01M469.2 111.1h.01M341.2 175.6h.01M355.2 156.9h.01M235.2 282.9h.01M363.9 178.2h.01M451.9 115.0h.01M247.4 276.9h.01M290.1 239.3h.01M318.2 166.4h.01M258.7 195.0h.01M391.9 147.9h.01M457.6 157.8h.01M408.3 140.1h.01M339.9 176.2h.01M293.9 221.4h.01M131.8 296.5h.01M223.5 261.6h.01M459.7 134.2h.01M230.9 282.4h.01M255.3 227.4h.01M380.6 177.0h.01M359.2 155.0h.01M295.9 213.8h.01M480.3 122.4h.01M283.2 257.5h.01M190.1 267.2h.01M388.4 182.1h.01M298.6 168.9h.01M352.3 158.0h.01M275.6 268.4h.01M303.7 164.1h.01M293.3 218.0h.01M418.8 182.0h.01M289.7 234.9h.01M295.0 216.4h.01M449.5 158.8h.01M426.6 177.4h.01M131.9 295.9h.01M308.0 213.3h.01M127.3 296.6h.01M328.6 202.0h.01M410.5 134.9h.01M294.8 215.0h.01M459.1 115.3h.01M255.7 273.9h.01M118.0 297.3h.01M255.6 193.1h.01M370.4 177.5h.01M161.0 299.6h.01M341.9 176.6h.01M342.5 177.0h.01M418.5 181.9h.01M391.8 147.0h.01M119.1 279.3h.01M291.6 239.5h.01M332.8 178.3h.01M416.6 127.2h.01M459.1 139.6h.01M329.6 180.1h.01M156.0 301.5h.01M253.2 233.2h.01M402.5 180.3h.01M448.8 162.6h.01M289.3 243.8h.01M136.0 298.2h.01M132.4 276.2h.01M323.5 208.6h.01M355.0 180.1h.01M472.7 125.5h.01M430.4 170.1h.01M141.4 299.2h.01M310.0 214.3h.01M421.4 176.2h.01M197.5 295.0h.01M459.4 143.6h.01M282.3 170.5h.01M225.3 261.1h.01M471.9 125.3h.01M415.1 132.1h.01M329.4 166.3h.01M450.1 116.9h.01M129.2 295.9h.01M291.1 171.5h.01M341.1 177.2h.01M248.0 247.8h.01M456.7 160.0h.01M336.2 177.5h.01M462.0 134.2h.01M288.9 172.4h.01M354.1 177.4h.01M286.2 178.3h.01M419.8 177.2h.01M281.4 182.9h.01M379.5 176.9h.01M229.3 259.9h.01M254.0 275.9h.01M148.5 300.7h.01M421.4 118.8h.01M408.2 138.2h.01M441.0 118.0h.01M341.2 162.1h.01M418.5 126.0h.01M188.2 267.0h.01M310.4 211.8h.01M256.1 211.2h.01M351.4 175.9h.01M385.0 149.6h.01M378.0 151.4h.01M256.4 208.3h.01M480.6 123.9h.01M158.2 297.7h.01M330.3 165.7h.01M207.3 287.1h.01M351.0 156.4h.01M128.0 278.9h.01M288.4 253.7h.01M371.0 177.5h.01M327.8 206.3h.01M326.4 180.8h.01M458.3 157.3h.01M437.7 117.1h.01M462.6 128.1h.01M405.7 179.7h.01M298.5 168.9h.01M387.0 176.4h.01M433.3 118.2h.01M284.3 183.9h.01M339.2 176.1h.01M289.9 236.0h.01M412.0 132.7h.01M445.6 117.8h.01M197.3 266.7h.01M474.7 114.0h.01M366.3 154.5h.01M260.7 272.3h.01M420.7 124.1h.01M440.3 117.0h.01M382.6 150.9h.01M189.7 266.6h.01M391.8 178.1h.01M296.1 213.1h.01M387.1 148.7h.01M250.5 243.3h.01M285.7 253.8h.01M237.8 249.8h.01M461.9 129.6h.01M119.4 296.5h.01M296.8 164.3h.01M437.4 159.7h.01M200.2 266.2h.01M255.8 224.3h.01M331.4 164.0h.01M456.0 115.7h.01M348.5 177.4h.01M271.6 187.4h.01M169.1 302.6h.01M239.0 280.3h.01M195.6 267.5h.01M355.5 154.1h.01M162.2 301.2h.01M409.0 182.7h.01M355.4 177.1h.01M269.6 275.0h.01M138.2 299.8h.01M214.6 283.6h.01M281.5 262.5h.01M250.8 197.5h.01M163.4 270.9h.01M217.0 263.5h.01M285.9 173.7h.01M381.7 147.3h.01M154.0 298.1h.01M196.4 265.9h.01M350.7 159.5h.01M164.5 297.9h.01M263.0 193.6h.01M113.2 295.2h.01M312.7 215.1h.01M443.7 116.3h.01M311.0 212.6h.01M328.5 194.7h.01M426.4 173.4h.01M231.9 259.7h.01M335.7 162.4h.01M279.8 267.7h.01M410.2 133.6h.01M160.6 267.4h.01M213.6 283.3h.01M397.6 183.1h.01M118.2 296.8h.01M413.6 178.9h.01M302.8 167.0h.01M367.3 178.3h.01M325.2 207.8h.01M291.9 237.0h.01M460.7 131.9h.01M256.5 231.2h.01M288.4 229.2h.01M328.4 165.6h.01M455.6 114.7h.01M248.1 246.2h.01M434.6 117.9h.01M433.3 117.8h.01M193.3 295.2h.01M278.8 266.2h.01M120.2 279.6h.01M111.8 297.3h.01M406.3 179.9h.01M349.8 177.1h.01M207.9 284.2h.01M370.5 177.7h.01M439.4 117.1h.01M431.9 117.9h.01M317.8 165.4h.01M283.2 260.6h.01M294.0 235.7h.01M362.5 155.4h.01M250.2 278.4h.01M442.8 160.7h.01M217.7 261.2h.01M460.2 152.7h.01M275.5 271.4h.01M129.7 297.3h.01M482.3 121.6h.01M350.3 176.4h.01M463.4 127.3h.01M147.3 300.5h.01M407.8 138.0h.01M284.0 177.6h.01M325.6 205.6h.01M287.1 175.7h.01M450.2 159.7h.01M202.2 266.7h.01M402.9 179.2h.01M174.2 269.7h.01M254.7 230.3h.01M287.5 177.9h.01M216.9 260.9h.01M357.3 156.5h.01M131.7 276.8h.01M306.8 165.5h.01M329.3 165.6h.01M251.7 274.6h.01M268.1 188.3h.01M443.2 159.2h.01M325.0 187.5h.01M444.3 161.0h.01M325.6 189.1h.01M316.9 210.9h.01M202.1 264.5h.01M245.5 247.4h.01M329.4 196.4h.01M151.9 300.9h.01M157.6 271.1h.01M465.6 128.8h.01M216.5 282.8h.01M472.1 117.6h.01M186.6 267.8h.01M269.2 189.0h.01M145.2 299.3h.01M423.3 178.0h.01M422.0 178.4h.01M231.4 282.3h.01M324.9 164.2h.01M406.1 138.6h.01M390.4 176.9h.01M183.6 267.0h.01M249.0 275.7h.01M253.8 239.4h.01M369.8 153.0h.01M441.1 158.5h.01M125.7 300.8h.01M428.7 172.3h.01M243.1 277.8h.01M463.9 116.2h.01M205.4 291.9h.01M210.0 283.6h.01M290.4 250.3h.01M281.5 185.5h.01M434.4 166.5h.01M266.0 271.7h.01M403.9 146.0h.01M412.7 178.8h.01M422.3 178.7h.01M371.4 177.3h.01M393.3 146.7h.01M445.1 113.2h.01M459.2 135.8h.01M458.8 116.4h.01M390.0 148.4h.01M384.4 147.0h.01M399.5 178.8h.01M254.8 205.2h.01M472.6 115.9h.01M238.6 279.4h.01M255.3 207.1h.01M429.4 172.1h.01M296.0 168.9h.01M353.1 158.7h.01M235.1 280.6h.01M287.4 171.2h.01M177.9 297.4h.01M164.6 298.0h.01M130.0 297.3h.01M463.0 144.3h.01M331.2 180.4h.01M142.0 301.8h.01M287.2 251.8h.01M393.0 147.7h.01M386.1 148.6h.01M350.9 176.5h.01M159.3 271.2h.01M477.3 127.4h.01M221.6 262.8h.01M288.4 171.7h.01M478.1 118.5h.01M255.3 214.8h.01M115.2 296.9h.01M154.2 271.9h.01M476.4 124.1h.01M308.8 212.1h.01M140.6 272.3h.01M201.7 292.2h.01M481.1 120.0h.01M226.6 261.0h.01M255.0 205.6h.01M403.7 179.5h.01M157.1 270.7h.01M144.9 300.0h.01M256.4 228.1h.01M228.0 261.7h.01M404.0 145.7h.01M110.4 292.7h.01M132.7 276.4h.01M247.2 244.3h.01M174.9 298.7h.01M243.6 251.7h.01M286.1 179.9h.01M154.8 270.7h.01M294.9 169.4h.01M217.8 284.4h.01M453.4 158.5h.01M178.1 297.4h.01M374.0 176.3h.01M471.5 125.0h.01M389.6 177.1h.01M113.0 295.6h.01M328.4 180.5h.01M380.7 151.2h.01M463.7 128.7h.01M129.3 276.4h.01M482.9 115.4h.01M381.3 150.9h.01M362.2 154.5h.01M311.8 165.5h.01M152.5 302.9h.01M476.7 127.2h.01M167.4 269.8h.01M258.7 196.6h.01M472.0 124.5h.01M291.4 170.0h.01M228.1 260.8h.01M291.4 246.5h.01M287.6 173.3h.01M217.4 284.1h.01M276.9 186.2h.01M132.2 299.4h.01M425.4 178.0h.01M256.7 225.2h.01M411.2 135.0h.01M187.2 265.3h.01M350.0 158.3h.01M292.4 222.3h.01M289.5 226.9h.01M139.4 270.3h.01M229.5 260.7h.01M427.2 173.7h.01M111.8 293.4h.01M328.8 198.8h.01M395.2 143.6h.01M200.2 293.4h.01M188.0 267.1h.01M360.0 180.1h.01M442.6 158.3h.01M286.2 181.6h.01M397.2 180.8h.01M130.6 276.2h.01M305.9 213.3h.01M316.1 165.6h.01M261.3 271.7h.01M252.3 275.8h.01M189.5 297.6h.01M286.6 180.0h.01M360.3 179.2h.01M148.2 271.9h.01M171.5 269.9h.01M290.5 245.6h.01M442.3 160.1h.01M107.2 291.1h.01M400.9 180.2h.01M230.4 259.6h.01M290.1 233.2h.01M304.7 212.0h.01M350.2 176.4h.01M404.7 145.4h.01M324.6 180.4h.01M402.8 180.6h.01M292.4 169.4h.01M461.2 113.9h.01M186.8 297.0h.01M204.1 266.6h.01M226.0 261.5h.01M264.9 190.8h.01M460.0 146.2h.01M255.9 217.8h.01M265.1 191.1h.01M255.4 223.3h.01M329.8 210.9h.01M306.9 212.5h.01M204.2 262.9h.01M168.2 269.3h.01M398.6 179.4h.01M270.4 188.4h.01M291.3 232.6h.01M475.1 124.4h.01M224.7 258.1h.01M195.0 296.7h.01M287.0 173.8h.01M284.4 174.4h.01M412.0 135.2h.01M431.3 172.6h.01M291.4 245.5h.01M353.3 155.6h.01M374.1 177.6h.01M380.8 151.5h.01M136.3 274.5h.01M221.1 286.3h.01M138.8 273.0h.01M274.4 184.5h.01M361.4 155.5h.01M221.2 286.4h.01M315.9 166.4h.01M148.2 302.1h.01M203.9 265.8h.01M165.3 269.9h.01M391.6 147.7h.01M179.5 269.3h.01M385.7 175.5h.01M285.6 175.2h.01M419.3 176.8h.01M417.3 179.1h.01M135.5 273.7h.01M373.3 152.5h.01M461.0 156.8h.01M320.0 161.4h.01M356.3 156.5h.01M139.2 272.7h.01M283.9 184.2h.01M408.9 134.7h.01M145.6 300.7h.01M151.9 298.4h.01M475.6 115.5h.01M198.9 293.0h.01M165.2 298.4h.01M165.2 271.0h.01M196.9 264.7h.01M435.8 117.6h.01M212.8 261.8h.01M462.3 148.4h.01M113.6 284.6h.01M256.0 224.7h.01M204.8 262.8h.01M424.9 175.4h.01M311.6 211.9h.01M425.0 118.6h.01M259.9 195.4h.01M471.8 125.6h.01M277.1 187.1h.01M273.8 188.4h.01M117.7 297.7h.01M148.8 303.6h.01M363.3 155.6h.01M462.2 142.7h.01M261.7 273.5h.01M122.8 280.6h.01M151.8 267.8h.01M203.4 264.1h.01M459.2 141.3h.01M287.1 179.6h.01M336.3 178.0h.01M484.1 119.2h.01M307.0 165.7h.01M259.8 275.7h.01M383.2 148.0h.01M399.3 186.5h.01M249.4 275.9h.01M327.9 199.8h.01M446.8 159.8h.01M460.1 148.4h.01M113.1 283.3h.01M327.5 193.7h.01M242.1 278.9h.01M146.6 300.2h.01M327.7 180.7h.01M450.7 116.6h.01M436.6 164.1h.01M416.5 180.5h.01M150.7 271.3h.01M116.2 284.9h.01M285.6 252.3h.01M261.1 195.0h.01M290.0 241.2h.01M411.0 181.8h.01M109.7 292.7h.01M254.7 221.2h.01M341.7 177.0h.01M261.0 273.1h.01M448.3 159.1h.01M177.7 267.9h.01M355.6 176.3h.01M240.9 254.3h.01M304.8 166.4h.01M264.9 190.9h.01M416.8 179.9h.01M361.0 154.9h.01M190.8 267.9h.01M208.1 282.9h.01M211.9 282.8h.01M473.4 124.6h.01M324.7 185.4h.01M324.6 182.2h.01M300.0 212.2h.01M411.9 131.9h.01M283.4 257.4h.01M170.7 268.0h.01M230.7 282.1h.01M343.9 160.0h.01M381.3 149.6h.01M325.9 188.3h.01M325.5 166.6h.01M363.5 177.6h.01M330.3 180.2h.01M406.9 180.5h.01M123.5 298.7h.01M390.3 177.1h.01M345.5 176.3h.01M359.4 177.6h.01M280.2 172.8h.01M456.3 114.9h.01M175.9 298.7h.01M238.6 280.6h.01M255.8 215.5h.01M365.6 152.4h.01M254.5 236.6h.01M223.1 282.4h.01M169.9 269.2h.01M326.8 182.4h.01M327.3 199.5h.01M112.4 295.3h.01M430.3 171.9h.01M440.2 160.7h.01M230.0 259.4h.01M220.5 264.0h.01M356.5 179.4h.01M338.5 177.3h.01M190.2 264.2h.01M135.5 274.6h.01M222.4 259.8h.01M399.3 180.4h.01M403.9 145.6h.01M426.5 120.1h.01M415.6 131.9h.01M456.0 160.1h.01M352.9 176.9h.01M110.5 286.0h.01M114.5 296.3h.01M248.2 248.4h.01M413.0 180.3h.01M385.1 149.1h.01M156.8 271.8h.01M341.6 160.5h.01M326.9 208.9h.01M441.2 159.9h.01M327.7 198.9h.01M437.8 159.8h.01M292.7 226.6h.01M208.1 262.3h.01M415.0 128.7h.01M110.8 284.0h.01M461.8 147.5h.01M254.4 209.1h.01M379.6 150.5h.01M136.3 275.1h.01M150.8 270.9h.01M154.0 270.8h.01M309.9 165.7h.01M331.9 178.8h.01M208.4 289.7h.01M202.5 293.0h.01M295.5 218.0h.01M368.7 177.2h.01M319.5 165.0h.01M202.5 293.2h.01M298.9 213.3h.01M213.5 264.3h.01M356.6 156.7h.01M425.0 175.1h.01M289.2 239.8h.01M288.7 227.0h.01M282.7 175.9h.01M303.2 166.9h.01M415.2 131.5h.01M317.5 165.6h.01M111.2 292.5h.01M245.6 247.8h.01M253.7 200.8h.01M290.9 221.6h.01M231.5 259.1h.01M292.3 220.9h.01M430.5 118.5h.01M474.9 124.1h.01M447.5 158.5h.01M221.4 284.4h.01M470.7 125.7h.01M278.9 181.8h.01M216.8 282.6h.01M372.3 151.1h.01M258.9 194.9h.01M451.7 115.6h.01M284.6 256.3h.01M158.3 271.5h.01M421.9 120.9h.01M251.8 240.2h.01M343.7 175.3h.01M382.9 147.8h.01M315.0 214.4h.01M342.6 161.8h.01M202.4 291.6h.01M242.6 278.8h.01M399.2 179.8h.01M135.4 297.8h.01M465.7 114.6h.01M394.4 146.2h.01M399.9 142.4h.01M339.7 178.6h.01M205.6 291.6h.01M121.5 282.1h.01M304.3 212.6h.01M459.7 132.0h.01M223.5 258.4h.01M395.0 143.8h.01M371.5 152.9h.01M207.3 292.1h.01M452.1 117.1h.01M379.9 175.4h.01M255.9 211.9h.01M186.1 297.6h.01M226.7 285.5h.01M363.0 155.1h.01M254.5 196.3h.01M472.9 124.3h.01M418.0 128.0h.01M152.4 299.0h.01M393.3 147.8h.01M180.2 297.4h.01M288.7 241.0h.01M462.1 146.6h.01M280.6 185.4h.01M252.6 219.8h.01M289.8 245.4h.01M410.3 132.0h.01M324.3 186.3h.01M247.0 249.4h.01M157.0 271.5h.01M245.8 276.8h.01M258.8 273.7h.01M317.4 163.6h.01M354.1 177.1h.01M433.0 163.6h.01M325.0 181.4h.01M403.0 145.3h.01M421.7 176.1h.01M436.8 115.4h.01M173.6 269.8h.01M135.8 297.4h.01M256.2 213.7h.01M255.4 224.5h.01M364.7 156.0h.01M156.9 297.6h.01M285.3 173.8h.01M383.2 176.8h.01M460.7 132.3h.01M248.9 276.4h.01M361.3 156.1h.01M305.0 214.5h.01M392.1 145.2h.01M290.1 233.9h.01M165.6 296.9h.01M114.3 297.5h.01M446.9 159.8h.01M328.3 189.0h.01M270.8 270.3h.01M215.1 264.1h.01M218.6 263.0h.01M468.3 112.2h.01M247.6 247.2h.01M345.6 160.1h.01M269.8 271.5h.01M303.0 167.8h.01M250.7 245.0h.01M426.9 173.5h.01M304.9 212.4h.01M420.7 121.7h.01M185.2 265.6h.01M408.3 138.6h.01M336.1 163.0h.01M460.8 134.4h.01M220.5 283.1h.01M442.3 117.1h.01M364.7 156.2h.01M346.2 161.5h.01M400.5 180.3h.01M374.5 179.2h.01M189.1 265.3h.01M365.5 155.0h.01M448.7 158.3h.01M396.3 179.0h.01M410.0 134.6h.01M399.5 180.0h.01M460.3 151.8h.01M282.1 171.8h.01M337.0 159.5h.01M235.5 256.0h.01M120.6 280.2h.01M422.8 175.4h.01M111.5 285.9h.01M478.6 119.6h.01M120.3 296.5h.01M140.7 272.5h.01M154.2 299.2h.01M234.0 257.9h.01M313.2 211.6h.01M231.8 259.9h.01M112.8 295.7h.01M420.2 123.9h.01M118.0 296.0h.01M430.6 116.4h.01M427.0 119.9h.01M249.1 244.8h.01M334.8 163.1h.01M457.9 115.5h.01M154.9 299.5h.01M357.9 155.5h.01M135.1 273.8h.01M250.5 235.1h.01M153.5 302.4h.01M158.1 268.3h.01M210.2 258.5h.01M286.9 257.4h.01M290.6 222.4h.01M173.1 266.4h.01M291.1 239.9h.01M377.6 176.6h.01M366.5 155.6h.01M306.9 166.3h.01M256.4 224.3h.01M152.3 299.0h.01M292.7 219.6h.01M459.0 111.2h.01M121.2 280.4h.01M280.7 181.2h.01M271.1 189.1h.01M230.8 281.2h.01M180.7 268.8h.01M327.7 200.3h.01M140.0 273.5h.01M298.4 212.4h.01M329.3 179.9h.01M133.7 276.2h.01M383.0 176.0h.01M449.2 158.2h.01M376.7 152.0h.01M365.3 176.7h.01M284.1 255.4h.01M349.8 160.4h.01M460.3 161.1h.01M239.9 283.8h.01M425.3 177.5h.01M158.9 271.7h.01M416.6 127.4h.01M446.2 160.1h.01M309.6 166.6h.01M371.8 180.2h.01M397.3 178.1h.01M403.5 145.9h.01M177.0 298.7h.01M408.1 141.2h.01M111.6 294.0h.01M156.3 271.8h.01M412.7 127.9h.01M324.3 184.2h.01M440.8 117.5h.01M477.3 124.2h.01M118.5 297.4h.01M462.8 112.3h.01M322.4 162.8h.01M293.3 242.1h.01M140.6 273.6h.01M280.5 268.3h.01M258.8 196.7h.01M213.9 263.6h.01M345.8 174.6h.01M287.5 179.5h.01M163.7 297.2h.01M402.2 142.4h.01M324.9 187.6h.01M330.3 165.0h.01M172.8 269.5h.01M174.5 298.2h.01M290.0 243.1h.01M285.1 174.8h.01M140.1 273.3h.01M432.2 118.0h.01M189.5 298.0h.01M463.5 127.5h.01M194.7 296.4h.01M268.3 188.0h.01M358.7 178.2h.01M326.7 180.2h.01M144.6 271.8h.01M372.8 177.1h.01M481.0 121.7h.01M464.2 113.1h.01M202.3 266.7h.01M311.8 166.0h.01M409.9 179.6h.01M319.5 210.0h.01M120.6 296.4h.01M328.9 165.1h.01M353.9 176.8h.01M443.9 117.1h.01M465.6 116.1h.01M179.7 269.1h.01M157.7 298.2h.01M252.2 242.6h.01M466.6 126.0h.01M343.0 176.1h.01M483.8 126.3h.01M133.4 274.7h.01M116.8 282.6h.01M165.0 268.2h.01M294.6 217.1h.01M286.4 170.8h.01M250.5 209.6h.01M271.0 269.8h.01M331.7 181.1h.01M410.9 133.0h.01M322.8 166.7h.01M232.0 259.2h.01M290.2 230.1h.01M227.0 259.9h.01M249.1 279.2h.01M291.1 222.6h.01M383.6 175.0h.01M463.7 150.5h.01M327.2 193.6h.01M273.0 188.1h.01M250.1 246.1h.01M223.8 259.6h.01M251.6 276.1h.01M151.3 303.2h.01M234.4 257.7h.01M249.8 243.5h.01M271.2 189.7h.01M248.8 238.0h.01M174.3 268.7h.01M225.3 261.4h.01M457.7 160.5h.01M395.0 146.0h.01M214.8 285.8h.01M463.9 156.2h.01M260.6 195.0h.01M218.6 263.6h.01M256.3 210.7h.01M379.9 175.6h.01M239.9 253.2h.01M418.2 124.3h.01M352.8 176.8h.01M301.8 167.7h.01M112.9 294.3h.01M432.1 168.4h.01M173.9 269.4h.01M293.3 220.9h.01M202.3 291.7h.01M266.0 188.7h.01M372.0 176.9h.01M121.8 281.0h.01M460.9 147.5h.01M192.4 266.2h.01M295.6 167.4h.01M324.6 184.6h.01M330.7 205.5h.01M220.0 262.5h.01M328.7 195.5h.01M361.0 179.1h.01M164.7 296.5h.01M274.1 186.9h.01M392.6 142.8h.01M216.0 264.3h.01M219.2 263.7h.01M129.5 276.9h.01M447.2 162.6h.01M222.2 259.3h.01M327.5 190.9h.01M133.6 296.3h.01M483.5 119.7h.01M326.1 166.6h.01M287.7 247.2h.01M195.7 266.3h.01M425.7 120.1h.01M356.1 181.1h.01M368.6 177.9h.01M458.4 138.8h.01M217.1 287.8h.01M296.1 219.0h.01M255.8 206.9h.01M304.9 212.2h.01M463.1 128.0h.01M282.7 184.7h.01M191.1 268.5h.01M439.2 115.6h.01M227.1 261.7h.01M254.4 219.2h.01M449.1 116.3h.01M375.2 178.0h.01M282.9 259.4h.01M289.7 224.9h.01M263.9 191.8h.01M461.5 115.8h.01M474.7 125.0h.01M293.5 217.2h.01M146.6 273.0h.01M471.5 115.3h.01M277.3 271.7h.01M117.9 283.3h.01M287.2 172.4h.01M285.7 262.2h.01M138.8 273.0h.01M328.0 196.0h.01M307.6 164.8h.01M344.0 160.3h.01M372.2 151.2h.01M163.6 297.3h.01M176.0 298.0h.01M288.9 243.0h.01M422.9 119.9h.01M330.8 180.0h.01M116.9 296.0h.01M141.3 270.9h.01M466.8 114.7h.01M280.4 262.7h.01M219.1 261.1h.01M463.8 114.8h.01M396.7 183.7h.01M417.4 126.8h.01M459.2 113.0h.01M211.5 262.6h.01M358.2 154.0h.01M150.2 300.9h.01M264.3 191.6h.01M306.4 162.4h.01M171.9 299.7h.01M165.4 270.4h.01M178.3 268.6h.01M474.8 118.2h.01M368.9 178.6h.01M288.5 241.3h.01M128.9 277.3h.01M438.8 158.9h.01M407.4 180.4h.01M457.1 116.5h.01M195.7 266.9h.01M329.7 196.6h.01M200.1 266.7h.01M290.9 237.4h.01M180.9 263.0h.01M119.2 297.6h.01M470.6 125.2h.01M208.2 283.5h.01M376.3 177.3h.01M317.5 209.7h.01M466.4 116.0h.01M204.7 264.8h.01M325.1 180.8h.01M282.6 258.4h.01M238.5 252.1h.01M230.0 281.9h.01M350.1 177.3h.01M235.6 256.5h.01M189.8 295.6h.01M115.8 296.8h.01M459.4 154.5h.01M218.0 285.1h.01M289.1 243.5h.01M383.6 150.9h.01M289.8 229.8h.01M214.9 264.1h.01M414.2 179.0h.01M286.5 253.6h.01M193.1 294.2h.01M129.2 274.2h.01M145.7 272.0h.01M375.4 147.9h.01M385.8 148.7h.01M459.8 147.7h.01M187.0 268.7h.01M112.8 293.7h.01M191.0 296.4h.01M177.1 268.2h.01M125.5 280.1h.01M246.3 249.3h.01M319.4 210.3h.01M210.0 289.1h.01M436.1 159.8h.01M424.0 121.2h.01M326.3 189.4h.01M166.4 270.5h.01M385.0 149.8h.01M198.0 294.3h.01M352.1 176.8h.01M288.3 249.7h.01M323.1 164.0h.01M401.2 181.4h.01M126.7 279.2h.01M172.3 269.9h.01M371.5 176.4h.01M327.1 188.6h.01M122.5 297.7h.01M250.3 276.0h.01M374.4 151.1h.01M398.4 146.2h.01M354.6 177.5h.01M460.0 132.9h.01M306.9 165.4h.01M218.3 282.7h.01M410.9 181.3h.01M137.4 271.4h.01M310.0 164.8h.01M327.9 199.8h.01M272.6 186.8h.01M416.4 179.0h.01M217.4 283.5h.01M173.9 299.6h.01M204.3 266.6h.01M469.9 117.0h.01M376.0 151.4h.01M429.7 119.0h.01M241.5 250.1h.01M379.0 177.1h.01M268.5 186.0h.01M182.9 268.6h.01M462.1 131.8h.01M401.1 146.2h.01M116.1 284.6h.01M159.6 270.2h.01M427.8 172.5h.01M282.9 183.7h.01M343.9 176.1h.01M256.1 202.8h.01M421.3 176.5h.01M168.4 269.2h.01M167.9 269.8h.01M450.7 114.1h.01M238.2 280.5h.01M309.5 164.9h.01M273.7 274.3h.01M430.8 172.4h.01M387.0 146.6h.01M194.0 295.0h.01M428.6 116.7h.01M271.9 273.8h.01M469.1 112.5h.01M327.9 165.8h.01M294.1 169.8h.01M280.9 262.8h.01M396.7 147.0h.01M209.5 264.6h.01M115.8 295.8h.01M390.5 147.0h.01M262.9 273.2h.01M188.1 295.6h.01M286.5 250.6h.01M164.5 298.0h.01M203.5 266.5h.01M477.5 115.8h.01M221.5 283.1h.01M327.5 200.1h.01M204.5 265.3h.01M384.6 178.7h.01M169.7 269.7h.01M167.8 301.7h.01M237.2 255.2h.01M209.3 283.6h.01M405.7 145.0h.01M263.0 192.3h.01M289.0 232.7h.01M426.8 173.3h.01M407.8 141.2h.01M165.0 297.4h.01M198.1 264.5h.01M404.9 143.8h.01M256.8 220.7h.01M283.5 265.0h.01M322.1 160.4h.01M181.4 268.9h.01M119.5 297.6h.01M361.2 156.0h.01M322.0 209.7h.01M110.2 286.3h.01M144.8 272.5h.01M475.6 123.9h.01M359.6 155.5h.01M327.6 193.0h.01M455.6 116.0h.01M461.3 115.6h.01M367.1 154.8h.01M296.2 213.1h.01M404.6 182.1h.01M193.2 295.9h.01M148.6 299.6h.01M153.2 302.8h.01M327.7 194.4h.01M199.1 294.3h.01M258.0 197.3h.01M216.3 262.9h.01M254.6 217.0h.01M274.9 268.0h.01M273.2 188.8h.01M414.1 124.4h.01M458.2 116.4h.01M210.8 283.8h.01M365.3 177.4h.01M440.1 158.9h.01M205.8 264.8h.01M366.1 154.7h.01M312.1 213.7h.01M480.9 121.0h.01M406.9 138.7h.01M246.9 280.7h.01M262.5 272.3h.01M367.6 155.0h.01M182.6 299.8h.01M130.3 297.3h.01M312.4 213.4h.01M156.8 298.6h.01M481.8 116.7h.01M461.1 160.8h.01M465.9 115.5h.01M349.4 175.5h.01M214.6 264.0h.01M450.2 159.3h.01M145.0 271.6h.01M214.5 264.3h.01M232.8 282.1h.01M421.9 123.2h.01M464.4 114.9h.01M175.8 268.0h.01M178.9 297.7h.01M240.4 280.3h.01M460.6 115.4h.01M254.7 274.2h.01M445.3 114.4h.01M407.4 142.0h.01M460.4 132.0h.01M421.1 122.5h.01M262.2 272.0h.01M467.8 114.3h.01M255.7 195.5h.01M355.1 154.3h.01M313.0 166.4h.01M108.2 292.4h.01M410.8 182.0h.01M163.4 300.8h.01M108.1 296.6h.01M357.4 154.7h.01M393.8 146.1h.01M372.8 151.9h.01M255.9 213.4h.01M325.1 187.1h.01M286.3 180.4h.01M332.1 165.4h.01M466.6 114.9h.01M214.0 264.8h.01M356.7 177.5h.01M470.5 125.2h.01M142.9 298.7h.01M179.1 269.1h.01M221.6 284.0h.01M178.7 298.7h.01M323.1 208.8h.01M419.8 123.9h.01M306.5 166.5h.01M403.5 140.4h.01M403.3 180.5h.01M318.0 166.3h.01M330.6 165.5h.01M229.7 282.0h.01M277.1 266.9h.01M332.0 179.5h.01M346.0 176.3h.01M297.1 169.0h.01M206.7 293.3h.01M305.5 166.7h.01M238.9 278.8h.01M325.3 206.1h.01M301.8 166.5h.01M219.7 285.4h.01M436.7 160.7h.01M265.6 270.6h.01M331.9 165.7h.01M249.9 246.6h.01M272.8 268.3h.01M418.4 127.0h.01M478.4 117.9h.01M303.6 165.9h.01M441.0 118.2h.01M186.3 298.7h.01M145.8 299.8h.01M283.2 259.8h.01M128.7 296.0h.01M309.9 166.3h.01M213.8 283.4h.01M244.3 247.6h.01M481.2 119.2h.01M116.5 284.2h.01M108.9 287.6h.01M403.9 145.7h.01M256.0 223.0h.01M289.6 241.2h.01M214.1 264.5h.01M195.4 294.2h.01M144.9 300.6h.01M187.7 267.1h.01M235.0 258.4h.01M129.0 297.5h.01M159.4 270.4h.01M254.8 204.0h.01M471.2 114.7h.01M266.1 190.1h.01M314.1 211.1h.01M264.8 191.5h.01M458.7 115.6h.01M189.6 268.1h.01M230.8 281.4h.01M216.0 284.3h.01M419.2 119.9h.01M160.9 270.3h.01M230.7 259.4h.01M480.6 119.0h.01M455.6 158.3h.01M449.5 114.8h.01M279.7 184.9h.01M329.0 198.7h.01M364.0 178.1h.01M406.3 183.0h.01M119.9 282.1h.01M205.9 288.1h.01M316.1 165.6h.01M120.2 296.7h.01M255.9 225.1h.01M225.0 282.5h.01M229.9 282.1h.01M238.9 254.4h.01M159.0 298.2h.01M180.7 300.3h.01M284.1 261.6h.01M113.4 294.5h.01M343.4 160.6h.01M267.3 271.3h.01M387.4 176.9h.01M256.1 273.5h.01M197.7 267.4h.01M278.8 267.5h.01M142.9 272.9h.01M265.0 273.6h.01M113.8 285.9h.01M463.2 144.8h.01M415.5 180.2h.01M154.5 298.3h.01M286.1 178.6h.01M230.1 281.4h.01M209.6 282.4h.01M284.2 257.1h.01M391.0 144.1h.01M272.0 269.3h.01M436.5 161.0h.01M168.8 298.1h.01M416.2 179.2h.01M428.1 119.0h.01M157.2 270.6h.01M394.8 147.4h.01M122.9 281.4h.01M179.0 268.9h.01M367.3 155.4h.01M120.5 281.4h.01M377.0 175.7h.01M207.3 265.3h.01M459.8 156.1h.01M295.0 214.8h.01M258.1 196.7h.01M217.4 262.4h.01M444.7 162.0h.01M206.1 290.6h.01M285.3 251.6h.01M265.1 271.7h.01M398.4 179.7h.01M364.1 178.8h.01M256.5 209.5h.01M187.9 267.9h.01M268.0 190.4h.01M294.6 216.4h.01M192.4 294.4h.01M257.4 276.6h.01M260.3 272.3h.01M157.7 297.2h.01M281.0 185.2h.01M386.1 176.4h.01M431.2 118.0h.01M138.5 296.9h.01M222.8 264.0h.01M438.2 159.9h.01M460.2 140.2h.01M230.9 258.6h.01M420.7 122.4h.01M175.0 299.3h.01M268.7 190.0h.01M336.4 163.6h.01M354.2 155.7h.01M221.8 283.7h.01M412.7 132.4h.01M468.0 127.3h.01M311.5 212.4h.01M216.1 283.8h.01M208.4 292.9h.01M214.3 260.5h.01M459.0 114.8h.01M273.6 186.3h.01M407.9 139.5h.01M155.9 300.3h.01M129.9 277.3h.01M326.0 190.6h.01M159.4 298.0h.01M447.4 158.3h.01M460.3 134.4h.01M474.4 117.3h.01M152.7 272.1h.01M117.0 295.8h.01M211.2 261.7h.01M254.8 197.2h.01M179.2 300.7h.01M235.2 279.9h.01M427.4 119.0h.01M474.0 118.4h.01M278.9 266.2h.01M219.4 258.7h.01M204.8 266.4h.01M264.7 192.7h.01M459.9 160.1h.01M288.2 256.5h.01M207.4 293.4h.01M172.3 269.3h.01M256.1 197.9h.01M254.8 210.4h.01M178.5 299.7h.01M327.4 200.0h.01M237.5 280.6h.01M287.4 181.1h.01M145.3 300.4h.01M462.9 114.8h.01M256.5 223.0h.01M444.9 116.8h.01M204.5 290.9h.01M248.9 243.9h.01M405.9 144.2h.01M380.2 175.6h.01M351.1 175.6h.01M270.5 187.1h.01M248.4 275.7h.01M196.4 297.5h.01M297.4 218.3h.01M271.6 188.3h.01M349.1 159.1h.01M452.1 159.2h.01M194.5 267.8h.01M294.5 168.8h.01M132.4 296.4h.01M406.8 140.3h.01M328.6 200.3h.01M255.0 221.8h.01M326.3 206.1h.01M421.8 177.6h.01M452.8 113.2h.01M328.5 164.8h.01M252.7 217.5h.01M228.2 257.7h.01M431.8 118.1h.01M202.8 298.4h.01M126.3 276.6h.01M464.1 115.0h.01M361.6 177.0h.01M252.5 237.3h.01M478.2 124.7h.01M221.7 263.0h.01M290.8 245.0h.01M328.0 192.0h.01M205.5 289.1h.01M416.5 129.0h.01M183.8 297.3h.01M287.9 250.2h.01M402.4 145.7h.01M374.1 152.3h.01M184.1 297.9h.01M423.8 176.6h.01M349.9 157.4h.01M437.4 118.4h.01M163.4 299.2h.01M120.5 297.7h.01M393.4 143.6h.01M346.1 161.1h.01M121.9 280.5h.01M200.1 294.9h.01M271.7 269.8h.01M286.3 174.4h.01M254.4 213.5h.01M335.6 163.8h.01M398.3 178.4h.01M297.5 165.3h.01M406.3 179.5h.01M311.1 211.9h.01M418.7 125.4h.01M471.9 124.5h.01M237.9 253.8h.01M401.7 180.7h.01M335.3 178.5h.01M342.8 176.1h.01M306.7 166.7h.01M454.9 112.1h.01M243.3 252.3h.01M324.1 207.0h.01M132.1 296.6h.01M305.4 213.2h.01M444.1 162.6h.01M160.6 298.0h.01M287.0 182.7h.01M133.3 275.0h.01M325.7 206.6h.01M321.0 209.9h.01M459.9 132.5h.01M443.5 117.1h.01M437.3 116.4h.01M333.6 178.4h.01M343.4 159.5h.01M309.8 165.4h.01M343.3 161.9h.01M287.3 181.0h.01M278.7 181.4h.01M268.8 272.6h.01M202.5 266.3h.01M334.3 179.1h.01M310.3 162.1h.01M475.9 125.1h.01M293.4 217.2h.01M314.9 211.3h.01M283.8 256.3h.01M411.3 133.9h.01M409.7 179.0h.01M338.6 162.2h.01M370.8 176.4h.01M152.5 299.8h.01M388.4 148.1h.01M244.7 251.5h.01M453.0 116.9h.01M129.1 277.2h.01M255.6 208.3h.01M129.7 299.9h.01M280.2 184.0h.01M463.4 113.8h.01M258.4 192.0h.01M180.2 268.7h.01M240.1 250.6h.01M264.7 270.4h.01M181.0 296.9h.01M177.1 299.9h.01M126.0 280.2h.01M309.8 164.8h.01M262.6 189.5h.01M443.9 162.3h.01M384.1 148.8h.01M289.0 232.6h.01M206.9 262.3h.01M439.6 115.9h.01M226.2 262.5h.01M464.1 115.9h.01M413.6 179.6h.01M289.5 232.7h.01M252.2 274.3h.01M433.5 168.0h.01M219.5 262.3h.01M268.0 187.9h.01M155.3 270.8h.01M440.0 118.3h.01M347.4 160.2h.01M243.9 249.1h.01M264.9 189.2h.01M141.5 272.1h.01M287.2 181.5h.01M112.5 294.7h.01M254.0 239.3h.01M239.7 279.1h.01M196.3 297.7h.01M309.5 212.2h.01M432.3 118.8h.01M199.8 265.7h.01M303.1 167.5h.01M118.1 283.7h.01M269.2 272.0h.01M280.8 261.3h.01M384.5 175.6h.01M355.4 153.7h.01M220.2 283.9h.01M201.7 293.6h.01M286.8 181.4h.01M444.7 159.4h.01M149.9 299.3h.01M302.5 165.7h.01M114.7 295.2h.01M310.2 166.5h.01M231.6 282.7h.01M407.6 141.2h.01M459.8 150.7h.01M328.7 200.1h.01M329.0 180.5h.01M176.9 269.5h.01M197.8 267.1h.01M287.2 249.4h.01M289.2 223.1h.01M207.2 263.3h.01M258.8 196.2h.01M135.8 297.9h.01M255.3 212.8h.01M432.9 163.8h.01M241.6 248.1h.01M289.2 232.3h.01M203.8 292.7h.01M328.1 200.5h.01M177.5 298.7h.01M264.7 274.2h.01M287.0 256.5h.01M272.5 271.4h.01M265.2 279.5h.01M291.6 253.9h.01M258.3 278.2h.01M216.9 290.3h.01M269.8 274.8h.01M272.3 273.3h.01M263.7 276.1h.01M238.8 283.5h.01M279.6 268.2h.01M293.7 249.4h.01M244.1 284.9h.01M292.6 255.9h.01M219.7 288.4h.01M267.7 277.3h.01M279.0 269.0h.01M287.7 258.1h.01M265.8 278.1h.01M217.2 290.8h.01M272.7 274.3h.01M293.2 256.9h.01M240.6 282.6h.01M266.2 274.3h.01M226.2 287.5h.01M275.1 273.9h.01M228.7 288.9h.01M250.0 282.3h.01M215.7 289.7h.01M285.1 265.7h.01M235.2 288.0h.01M221.2 287.7h.01M252.4 280.0h.01M291.4 257.9h.01M221.0 289.2h.01M209.6 294.9h.01M235.3 288.4h.01M287.4 259.1h.01M211.5 292.3h.01M254.3 277.6h.01M225.9 288.2h.01M225.1 287.4h.01M219.1 290.2h.01M242.7 282.0h.01M273.5 272.7h.01M275.0 271.1h.01M261.7 276.7h.01M277.1 269.2h.01M243.1 282.6h.01M266.0 273.6h.01M230.0 285.4h.01M255.8 281.0h.01M239.9 283.2h.01M275.7 270.6h.01M278.3 273.6h.01M278.7 279.6h.01M271.5 273.6h.01M233.1 285.0h.01M217.9 292.1h.01M215.0 293.9h.01M295.8 256.3h.01M211.8 295.1h.01M273.7 270.9h.01M226.3 287.0h.01M265.6 275.4h.01M220.7 288.0h.01M274.6 273.0h.01M287.9 254.4h.01M277.4 271.2h.01M114.3 303.5h.01M155.4 301.7h.01M153.2 301.3h.01M134.6 301.7h.01M193.2 298.5h.01M137.7 303.6h.01M160.8 302.3h.01M199.8 297.2h.01M204.7 295.7h.01M139.5 302.7h.01M195.5 298.6h.01M124.1 302.1h.01M172.9 300.2h.01M184.5 300.4h.01M166.0 304.6h.01M143.4 304.4h.01M142.0 303.2h.01M186.4 300.0h.01M141.5 303.7h.01M125.3 304.1h.01M177.1 302.2h.01M160.1 301.2h.01M149.6 302.8h.01M121.0 301.6h.01M111.7 302.6h.01M169.9 302.4h.01M172.5 300.3h.01M128.2 302.7h.01M149.1 302.0h.01M175.6 300.6h.01M120.6 303.9h.01M148.1 301.7h.01M200.1 296.7h.01M182.1 299.9h.01M181.2 300.0h.01M115.5 275.7h.01M111.7 277.8h.01M120.6 272.2h.01M141.1 265.9h.01M109.1 279.5h.01M131.9 268.2h.01M131.6 269.0h.01M142.1 266.9h.01M138.4 268.1h.01M119.2 274.0h.01M138.5 263.1h.01M122.6 273.2h.01M124.1 270.3h.01M129.8 269.8h.01M465.5 131.9h.01M470.2 132.4h.01M451.0 166.4h.01M446.5 169.3h.01M445.0 172.2h.01M441.5 167.0h.01M438.5 173.0h.01M442.2 164.6h.01M448.0 164.6h.01M452.4 168.0h.01M455.0 164.5h.01M443.5 170.5h.01M449.5 170.0h.01M440.0 169.5h.01M436.8 170.0h.01M301.0 157.2h.01M337.0 156.7h.01M305.6 160.6h.01M371.3 143.7h.01M377.5 143.5h.01M356.4 150.5h.01M399.3 134.4h.01M406.2 123.1h.01M410.3 126.7h.01M488.8 121.6h.01M491.3 121.7h.01M107.8 271.8h.01M97.3 274.5h.01M115.5 268.2h.01M113.6 274.5h.01M119.0 272.3h.01M103.0 279.0h.01M101.0 284.0h.01M99.0 289.5h.01M103.5 294.5h.01M104.0 300.5h.01M110.0 304.5h.01M126.4 304.5h.01M76.4 289.0h.01M86.5 284.2h.01M91.6 278.3h.01M95.4 277.1h.01M96.7 274.5h.01M94.2 283.4h.01M95.4 287.3h.01M86.5 289.0h.01M90.4 288.0h.01M90.4 296.7h.01M95.4 295.6h.01M101.8 298.2h.01M100.5 291.0h.01M115.8 268.2h.01M129.8 268.7h.01M112.0 272.0h.01M406.5 123.1h.01M398.9 134.5h.01M446.5 108.6h.01M466.3 112.9h.01M472.7 142.2h.01M467.6 145.5h.01M470.9 132.0h.01M465.6 157.4h.01M458.7 165.6h.01M453.6 170.9h.01M446.5 170.9h.01" stroke="#008000" stroke-width="3.4" stroke-linecap="round" fill="none"/>
<path d="M206.7 284.7C210.3 280.9 222.6 267.3 228.3 261.8C234.0 256.3 236.4 254.8 241.1 251.6C245.8 248.4 251.6 245.5 256.3 242.7C261.0 239.9 265.7 237.0 269.1 234.6C272.5 232.2 274.2 230.6 276.7 228.0C279.2 225.4 281.3 223.4 284.3 218.9C287.3 214.4 291.9 205.3 294.5 201.1C297.1 196.8 298.3 195.9 300.0 193.4C301.7 190.9 303.0 188.5 304.7 186.0C306.4 183.5 308.5 180.3 310.2 178.2C311.9 176.1 313.2 175.1 314.9 173.6C316.6 172.1 317.4 170.7 320.4 169.3C323.4 167.9 328.0 166.1 333.1 165.4C338.2 164.8 344.1 164.6 350.9 165.4C357.7 166.2 367.4 170.2 373.8 170.5C380.2 170.8 384.0 168.2 389.1 167.0C394.2 165.8 400.8 164.6 404.3 163.2C407.8 161.8 409.1 160.5 410.0 158.5C410.9 156.5 408.7 154.0 410.0 151.3C411.3 148.6 415.0 145.2 418.0 142.2C421.0 139.2 425.0 135.7 428.2 133.3C431.4 130.9 433.7 129.2 437.1 127.7C440.5 126.2 444.6 125.3 448.5 124.4C452.4 123.5 458.3 122.8 460.3 122.5" fill="none" stroke="#ff0000" stroke-width="1.95" stroke-linejoin="round" stroke-linecap="square"/>
<polygon points="460.50,115.65 462.04,120.38 467.01,120.38 462.99,123.31 464.53,128.04 460.50,125.12 456.47,128.04 458.01,123.31 453.99,120.38 458.96,120.38" fill="#ff0000" stroke="#ff0000" stroke-width="1" stroke-linejoin="miter"/>
<rect x="66.15" y="31.55" width="463.95" height="346.05" fill="none" stroke="#000" stroke-width="1.03"/>
<path d="M66.15 377.60v4.5M158.94 377.60v4.5M251.73 377.60v4.5M344.52 377.60v4.5M437.31 377.60v4.5M530.10 377.60v4.5M66.15 377.60h-4.5M66.15 334.34h-4.5M66.15 291.09h-4.5M66.15 247.83h-4.5M66.15 204.58h-4.5M66.15 161.32h-4.5M66.15 118.06h-4.5M66.15 74.81h-4.5M66.15 31.55h-4.5" stroke="#000" stroke-width="1.03" fill="none"/>
<g font-size="12.97">
<text x="66.15" y="396.4" text-anchor="middle">113.3</text>
<text x="158.94" y="396.4" text-anchor="middle">113.4</text>
<text x="251.73" y="396.4" text-anchor="middle">113.5</text>
<text x="344.52" y="396.4" text-anchor="middle">113.6</text>
<text x="437.31" y="396.4" text-anchor="middle">113.7</text>
<text x="530.10" y="396.4" text-anchor="middle">113.8</text>
<text x="57.15" y="382.35" text-anchor="end">21.60</text>
<text x="57.15" y="339.09" text-anchor="end">21.65</text>
<text x="57.15" y="295.84" text-anchor="end">21.70</text>
<text x="57.15" y="252.58" text-anchor="end">21.75</text>
<text x="57.15" y="209.33" text-anchor="end">21.80</text>
<text x="57.15" y="166.07" text-anchor="end">21.85</text>
<text x="57.15" y="122.81" text-anchor="end">21.90</text>
<text x="57.15" y="79.56" text-anchor="end">21.95</text>
<text x="57.15" y="36.30" text-anchor="end">22.00</text>
<text x="298.1" y="414.9" text-anchor="middle">Longitude</text>
<text transform="translate(13.4 206.4) rotate(-90)" text-anchor="middle">Latitude</text>
</g>
<text x="298.1" y="23.5" font-size="23.45" text-anchor="middle">half-loaded life raft(Open sea)</text>
<rect x="72.45" y="38.25" width="299.85" height="81.6" rx="2.6" fill="#fff" fill-opacity="0.8" stroke="#ccc" stroke-opacity="0.8" stroke-width="1.03"/>
<circle cx="90.7" cy="50.0" r="1.75" fill="#0000ff"/>
<circle cx="90.7" cy="69.65" r="1.75" fill="#008000"/>
<path d="M76.9 88.0h27.9" stroke="#ff0000" stroke-width="1.95"/>
<polygon points="90.70,102.25 92.24,106.98 97.21,106.98 93.19,109.91 94.73,114.64 90.70,111.72 86.67,114.64 88.21,109.91 84.19,106.98 89.16,106.98" fill="#ff0000" stroke="#ff0000" stroke-width="1" stroke-linejoin="miter"/>
<g font-size="12.97">
<text x="114.1" y="53.35">Region predicted by the AP98 model</text>
<text x="114.1" y="73.02">Region predicted by BP neural network</text>
<text x="114.1" y="92.69">Actual trajectory</text>
<text x="114.1" y="112.36">Start point</text>
</g>
</svg></body></html>
